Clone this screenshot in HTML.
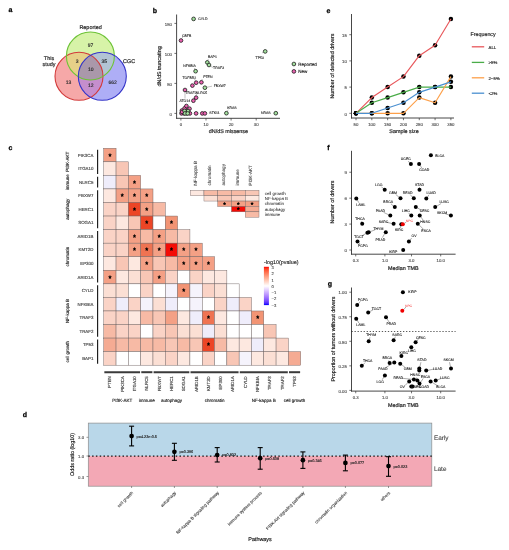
<!DOCTYPE html>
<html><head><meta charset="utf-8"><title>Figure</title>
<style>
html,body{margin:0;padding:0;background:#fff;}
body{width:509px;height:550px;overflow:hidden;position:relative;}
svg{position:absolute;left:0;top:0;display:block;font-family:"Liberation Sans", Arial, Helvetica, sans-serif;text-rendering:geometricPrecision;}
</style></head><body>
<svg width="509" height="550" viewBox="0 0 509 550">
<rect x="0" y="0" width="509" height="550" fill="#fff"/>
<text x="8.50" y="10.90" font-size="7" fill="#000" font-weight="bold" dominant-baseline="central" stroke="#000" stroke-width="0.25">a</text>
<text x="152.70" y="11.00" font-size="7" fill="#000" font-weight="bold" dominant-baseline="central" stroke="#000" stroke-width="0.25">b</text>
<text x="326.40" y="11.20" font-size="7" fill="#000" font-weight="bold" dominant-baseline="central" stroke="#000" stroke-width="0.25">e</text>
<text x="8.60" y="148.10" font-size="7" fill="#000" font-weight="bold" dominant-baseline="central" stroke="#000" stroke-width="0.25">c</text>
<text x="327.30" y="148.00" font-size="7" fill="#000" font-weight="bold" dominant-baseline="central" stroke="#000" stroke-width="0.25">f</text>
<text x="327.80" y="284.10" font-size="7" fill="#000" font-weight="bold" dominant-baseline="central" stroke="#000" stroke-width="0.25">g</text>
<text x="22.70" y="415.60" font-size="7" fill="#000" font-weight="bold" dominant-baseline="central" stroke="#000" stroke-width="0.25">d</text>
<defs><clipPath id="cg"><circle cx="90.4" cy="56" r="24"/></clipPath><clipPath id="cr"><circle cx="79" cy="76.3" r="24"/></clipPath></defs>
<circle cx="79.00" cy="76.30" r="24" fill="#f6a8a8" stroke="none" stroke-width="0.5"/>
<circle cx="102.30" cy="76.30" r="24" fill="#aeaef6" stroke="none" stroke-width="0.5"/>
<circle cx="90.40" cy="56.00" r="24" fill="#d7f3a8" stroke="none" stroke-width="0.5"/>
<g clip-path="url(#cr)">
<circle cx="102.30" cy="76.30" r="24" fill="#c58ecd" stroke="none" stroke-width="0.5"/>
</g>
<g clip-path="url(#cg)">
<circle cx="79.00" cy="76.30" r="24" fill="#e6d088" stroke="none" stroke-width="0.5"/>
<circle cx="102.30" cy="76.30" r="24" fill="#b2c4d4" stroke="none" stroke-width="0.5"/>
</g>
<g clip-path="url(#cg)"><g clip-path="url(#cr)">
<circle cx="102.30" cy="76.30" r="24" fill="#aa98aa" stroke="none" stroke-width="0.5"/>
</g></g>
<circle cx="79.00" cy="76.30" r="24" fill="none" stroke="#d23a3a" stroke-width="1.1"/>
<circle cx="90.40" cy="56.00" r="24" fill="none" stroke="#6cc236" stroke-width="1.1"/>
<circle cx="102.30" cy="76.30" r="24" fill="none" stroke="#3434c8" stroke-width="1.1"/>
<text x="90.60" y="27.70" font-size="5.45" text-anchor="middle" fill="#1a1a1a" dominant-baseline="central" stroke="#1a1a1a" stroke-width="0.16">Reported</text>
<text x="49.00" y="58.70" font-size="5.45" text-anchor="middle" fill="#1a1a1a" dominant-baseline="central" stroke="#1a1a1a" stroke-width="0.16">This</text>
<text x="49.00" y="64.50" font-size="5.45" text-anchor="middle" fill="#1a1a1a" dominant-baseline="central" stroke="#1a1a1a" stroke-width="0.16">study</text>
<text x="123.00" y="62.40" font-size="5.45" fill="#1a1a1a" dominant-baseline="central" stroke="#1a1a1a" stroke-width="0.16">CGC</text>
<text x="90.60" y="45.60" font-size="5" text-anchor="middle" fill="#2a2a2a" dominant-baseline="central" stroke="#2a2a2a" stroke-width="0.15">97</text>
<text x="77.10" y="61.70" font-size="5" text-anchor="middle" fill="#2a2a2a" dominant-baseline="central" stroke="#2a2a2a" stroke-width="0.15">3</text>
<text x="104.20" y="61.70" font-size="5" text-anchor="middle" fill="#2a2a2a" dominant-baseline="central" stroke="#2a2a2a" stroke-width="0.15">35</text>
<text x="90.80" y="70.10" font-size="5" text-anchor="middle" fill="#2a2a2a" dominant-baseline="central" stroke="#2a2a2a" stroke-width="0.15">10</text>
<text x="68.60" y="82.60" font-size="5" text-anchor="middle" fill="#2a2a2a" dominant-baseline="central" stroke="#2a2a2a" stroke-width="0.15">13</text>
<text x="90.80" y="86.00" font-size="5" text-anchor="middle" fill="#2a2a2a" dominant-baseline="central" stroke="#2a2a2a" stroke-width="0.15">12</text>
<text x="112.60" y="82.60" font-size="5" text-anchor="middle" fill="#2a2a2a" dominant-baseline="central" stroke="#2a2a2a" stroke-width="0.15">662</text>
<line x1="176.60" y1="14.50" x2="176.60" y2="118.75" stroke="#333" stroke-width="0.9"/>
<line x1="176.15" y1="118.30" x2="280.00" y2="118.30" stroke="#333" stroke-width="0.9"/>
<line x1="174.40" y1="113.40" x2="176.60" y2="113.40" stroke="#333" stroke-width="0.7"/>
<text x="172.00" y="114.10" font-size="4.3" text-anchor="end" fill="#4d4d4d" dominant-baseline="central" stroke="#4d4d4d" stroke-width="0.12">0</text>
<line x1="174.40" y1="83.40" x2="176.60" y2="83.40" stroke="#333" stroke-width="0.7"/>
<text x="172.00" y="84.10" font-size="4.3" text-anchor="end" fill="#4d4d4d" dominant-baseline="central" stroke="#4d4d4d" stroke-width="0.12">50</text>
<line x1="174.40" y1="53.40" x2="176.60" y2="53.40" stroke="#333" stroke-width="0.7"/>
<text x="172.00" y="54.10" font-size="4.3" text-anchor="end" fill="#4d4d4d" dominant-baseline="central" stroke="#4d4d4d" stroke-width="0.12">100</text>
<line x1="174.40" y1="23.40" x2="176.60" y2="23.40" stroke="#333" stroke-width="0.7"/>
<text x="172.00" y="24.10" font-size="4.3" text-anchor="end" fill="#4d4d4d" dominant-baseline="central" stroke="#4d4d4d" stroke-width="0.12">150</text>
<line x1="180.90" y1="118.30" x2="180.90" y2="120.50" stroke="#333" stroke-width="0.7"/>
<text x="180.90" y="124.90" font-size="4.3" text-anchor="middle" fill="#4d4d4d" dominant-baseline="central" stroke="#4d4d4d" stroke-width="0.12">0</text>
<line x1="206.00" y1="118.30" x2="206.00" y2="120.50" stroke="#333" stroke-width="0.7"/>
<text x="206.00" y="124.90" font-size="4.3" text-anchor="middle" fill="#4d4d4d" dominant-baseline="central" stroke="#4d4d4d" stroke-width="0.12">10</text>
<line x1="231.10" y1="118.30" x2="231.10" y2="120.50" stroke="#333" stroke-width="0.7"/>
<text x="231.10" y="124.90" font-size="4.3" text-anchor="middle" fill="#4d4d4d" dominant-baseline="central" stroke="#4d4d4d" stroke-width="0.12">20</text>
<line x1="256.20" y1="118.30" x2="256.20" y2="120.50" stroke="#333" stroke-width="0.7"/>
<text x="256.20" y="124.90" font-size="4.3" text-anchor="middle" fill="#4d4d4d" dominant-baseline="central" stroke="#4d4d4d" stroke-width="0.12">30</text>
<text x="228.40" y="132.40" font-size="5.4" text-anchor="middle" fill="#222" dominant-baseline="central" stroke="#222" stroke-width="0.18">dN/dS missense</text>
<text x="160.00" y="66.40" font-size="5.4" text-anchor="middle" fill="#222" transform="rotate(-90 160 66.4)" dominant-baseline="central" stroke="#222" stroke-width="0.18">dN/dS truncating</text>
<line x1="181.50" y1="38.50" x2="183.00" y2="37.00" stroke="#555" stroke-width="0.35"/>
<line x1="196.00" y1="70.00" x2="194.00" y2="68.00" stroke="#555" stroke-width="0.35"/>
<line x1="207.00" y1="61.00" x2="208.50" y2="59.00" stroke="#555" stroke-width="0.35"/>
<line x1="210.00" y1="66.00" x2="213.00" y2="67.50" stroke="#555" stroke-width="0.35"/>
<line x1="195.50" y1="81.00" x2="194.50" y2="79.00" stroke="#555" stroke-width="0.35"/>
<line x1="201.30" y1="80.50" x2="202.50" y2="79.00" stroke="#555" stroke-width="0.35"/>
<line x1="207.00" y1="87.20" x2="212.00" y2="86.20" stroke="#555" stroke-width="0.35"/>
<line x1="185.00" y1="92.00" x2="185.00" y2="98.50" stroke="#555" stroke-width="0.35"/>
<line x1="193.50" y1="99.00" x2="197.00" y2="94.00" stroke="#555" stroke-width="0.35"/>
<line x1="226.60" y1="111.50" x2="228.50" y2="110.00" stroke="#555" stroke-width="0.35"/>
<line x1="262.00" y1="53.00" x2="264.00" y2="51.50" stroke="#555" stroke-width="0.35"/>
<circle cx="193.60" cy="18.90" r="1.85" fill="#a3e09e" stroke="#1c1c1c" stroke-width="0.8"/>
<circle cx="265.20" cy="51.40" r="1.85" fill="#a3e09e" stroke="#1c1c1c" stroke-width="0.8"/>
<circle cx="207.30" cy="62.40" r="1.85" fill="#a3e09e" stroke="#1c1c1c" stroke-width="0.8"/>
<circle cx="209.00" cy="65.00" r="1.85" fill="#a3e09e" stroke="#1c1c1c" stroke-width="0.8"/>
<circle cx="195.60" cy="71.20" r="1.85" fill="#a3e09e" stroke="#1c1c1c" stroke-width="0.8"/>
<circle cx="204.90" cy="87.70" r="1.85" fill="#a3e09e" stroke="#1c1c1c" stroke-width="0.8"/>
<circle cx="226.40" cy="113.20" r="1.85" fill="#a3e09e" stroke="#1c1c1c" stroke-width="0.8"/>
<circle cx="275.80" cy="113.20" r="1.85" fill="#a3e09e" stroke="#1c1c1c" stroke-width="0.8"/>
<circle cx="181.00" cy="40.50" r="1.85" fill="#ea62b0" stroke="#1c1c1c" stroke-width="0.8"/>
<circle cx="192.40" cy="85.60" r="1.85" fill="#ea62b0" stroke="#1c1c1c" stroke-width="0.8"/>
<circle cx="196.20" cy="82.70" r="1.85" fill="#ea62b0" stroke="#1c1c1c" stroke-width="0.8"/>
<circle cx="201.40" cy="82.30" r="1.85" fill="#ea62b0" stroke="#1c1c1c" stroke-width="0.8"/>
<circle cx="185.00" cy="90.00" r="1.85" fill="#ea62b0" stroke="#1c1c1c" stroke-width="0.8"/>
<circle cx="193.40" cy="100.70" r="1.85" fill="#ea62b0" stroke="#1c1c1c" stroke-width="0.8"/>
<circle cx="196.10" cy="97.70" r="1.85" fill="#ea62b0" stroke="#1c1c1c" stroke-width="0.8"/>
<circle cx="196.10" cy="113.40" r="1.85" fill="#ea62b0" stroke="#1c1c1c" stroke-width="0.8"/>
<circle cx="202.30" cy="113.40" r="1.85" fill="#ea62b0" stroke="#1c1c1c" stroke-width="0.8"/>
<circle cx="204.90" cy="113.40" r="1.85" fill="#ea62b0" stroke="#1c1c1c" stroke-width="0.8"/>
<circle cx="181.50" cy="113.40" r="1.85" fill="#ea62b0" stroke="#1c1c1c" stroke-width="0.8"/>
<circle cx="184.10" cy="113.40" r="1.85" fill="#ea62b0" stroke="#1c1c1c" stroke-width="0.8"/>
<circle cx="186.80" cy="113.40" r="1.85" fill="#ea62b0" stroke="#1c1c1c" stroke-width="0.8"/>
<circle cx="189.90" cy="113.40" r="1.85" fill="#ea62b0" stroke="#1c1c1c" stroke-width="0.8"/>
<circle cx="181.90" cy="110.50" r="1.85" fill="#ea62b0" stroke="#1c1c1c" stroke-width="0.8"/>
<circle cx="184.60" cy="108.30" r="1.85" fill="#ea62b0" stroke="#1c1c1c" stroke-width="0.8"/>
<circle cx="186.40" cy="106.00" r="1.85" fill="#ea62b0" stroke="#1c1c1c" stroke-width="0.8"/>
<circle cx="189.50" cy="108.70" r="1.85" fill="#ea62b0" stroke="#1c1c1c" stroke-width="0.8"/>
<circle cx="187.20" cy="110.90" r="1.85" fill="#ea62b0" stroke="#1c1c1c" stroke-width="0.8"/>
<circle cx="182.00" cy="112.00" r="1.85" fill="#ea62b0" stroke="#1c1c1c" stroke-width="0.8"/>
<circle cx="184.60" cy="110.90" r="1.85" fill="#a3e09e" stroke="#1c1c1c" stroke-width="0.8"/>
<circle cx="188.10" cy="111.00" r="1.85" fill="#a3e09e" stroke="#1c1c1c" stroke-width="0.8"/>
<circle cx="185.00" cy="113.40" r="1.85" fill="#a3e09e" stroke="#1c1c1c" stroke-width="0.8"/>
<circle cx="187.70" cy="113.40" r="1.85" fill="#a3e09e" stroke="#1c1c1c" stroke-width="0.8"/>
<text x="198.20" y="18.90" font-size="3.5" fill="#222" dominant-baseline="central" stroke="#222" stroke-width="0.1">CYLD</text>
<text x="186.60" y="35.60" font-size="3.5" text-anchor="middle" fill="#222" dominant-baseline="central" stroke="#222" stroke-width="0.1">CBFB</text>
<text x="212.40" y="57.30" font-size="3.5" text-anchor="middle" fill="#222" dominant-baseline="central" stroke="#222" stroke-width="0.1">BAP1</text>
<text x="218.60" y="68.20" font-size="3.5" text-anchor="middle" fill="#222" dominant-baseline="central" stroke="#222" stroke-width="0.1">TRAF3</text>
<text x="189.60" y="66.20" font-size="3.5" text-anchor="middle" fill="#222" dominant-baseline="central" stroke="#222" stroke-width="0.1">NFKBIA</text>
<text x="189.40" y="77.60" font-size="3.5" text-anchor="middle" fill="#222" dominant-baseline="central" stroke="#222" stroke-width="0.1">TGFBR2</text>
<text x="207.80" y="77.10" font-size="3.5" text-anchor="middle" fill="#222" dominant-baseline="central" stroke="#222" stroke-width="0.1">PTEN</text>
<text x="219.70" y="86.00" font-size="3.5" text-anchor="middle" fill="#222" dominant-baseline="central" stroke="#222" stroke-width="0.1">FBXW7</text>
<text x="191.00" y="93.00" font-size="3.5" text-anchor="middle" fill="#222" dominant-baseline="central" stroke="#222" stroke-width="0.1">TRAF2</text>
<text x="201.40" y="93.00" font-size="3.5" text-anchor="middle" fill="#222" dominant-baseline="central" stroke="#222" stroke-width="0.1">NLRC5</text>
<text x="184.80" y="101.20" font-size="3.5" text-anchor="middle" fill="#222" dominant-baseline="central" stroke="#222" stroke-width="0.1">ATG14</text>
<text x="209.30" y="113.20" font-size="3.5" fill="#222" dominant-baseline="central" stroke="#222" stroke-width="0.1">STK11</text>
<text x="231.90" y="108.00" font-size="3.5" text-anchor="middle" fill="#222" dominant-baseline="central" stroke="#222" stroke-width="0.1">KRAS</text>
<text x="259.70" y="58.00" font-size="3.5" text-anchor="middle" fill="#222" dominant-baseline="central" stroke="#222" stroke-width="0.1">TP53</text>
<text x="265.80" y="113.20" font-size="3.5" text-anchor="middle" fill="#222" dominant-baseline="central" stroke="#222" stroke-width="0.1">NRAS</text>
<circle cx="293.90" cy="64.00" r="1.85" fill="#a3e09e" stroke="#1c1c1c" stroke-width="0.8"/>
<circle cx="293.90" cy="71.40" r="1.85" fill="#ea62b0" stroke="#1c1c1c" stroke-width="0.8"/>
<text x="298.20" y="64.20" font-size="4.5" fill="#1a1a1a" dominant-baseline="central" stroke="#1a1a1a" stroke-width="0.14">Reported</text>
<text x="298.20" y="71.60" font-size="4.5" fill="#1a1a1a" dominant-baseline="central" stroke="#1a1a1a" stroke-width="0.14">New</text>
<line x1="351.50" y1="14.00" x2="351.50" y2="118.45" stroke="#333" stroke-width="0.9"/>
<line x1="351.05" y1="118.00" x2="454.00" y2="118.00" stroke="#333" stroke-width="0.9"/>
<line x1="349.30" y1="113.30" x2="351.50" y2="113.30" stroke="#333" stroke-width="0.7"/>
<text x="346.90" y="114.00" font-size="4.3" text-anchor="end" fill="#4d4d4d" dominant-baseline="central" stroke="#4d4d4d" stroke-width="0.12">0</text>
<line x1="349.30" y1="87.10" x2="351.50" y2="87.10" stroke="#333" stroke-width="0.7"/>
<text x="346.90" y="87.80" font-size="4.3" text-anchor="end" fill="#4d4d4d" dominant-baseline="central" stroke="#4d4d4d" stroke-width="0.12">5</text>
<line x1="349.30" y1="60.90" x2="351.50" y2="60.90" stroke="#333" stroke-width="0.7"/>
<text x="346.90" y="61.60" font-size="4.3" text-anchor="end" fill="#4d4d4d" dominant-baseline="central" stroke="#4d4d4d" stroke-width="0.12">10</text>
<line x1="349.30" y1="34.70" x2="351.50" y2="34.70" stroke="#333" stroke-width="0.7"/>
<text x="346.90" y="35.40" font-size="4.3" text-anchor="end" fill="#4d4d4d" dominant-baseline="central" stroke="#4d4d4d" stroke-width="0.12">15</text>
<line x1="356.00" y1="118.00" x2="356.00" y2="120.20" stroke="#333" stroke-width="0.7"/>
<text x="356.00" y="124.60" font-size="4.3" text-anchor="middle" fill="#4d4d4d" dominant-baseline="central" stroke="#4d4d4d" stroke-width="0.12">50</text>
<line x1="371.82" y1="118.00" x2="371.82" y2="120.20" stroke="#333" stroke-width="0.7"/>
<text x="371.82" y="124.60" font-size="4.3" text-anchor="middle" fill="#4d4d4d" dominant-baseline="central" stroke="#4d4d4d" stroke-width="0.12">100</text>
<line x1="387.63" y1="118.00" x2="387.63" y2="120.20" stroke="#333" stroke-width="0.7"/>
<text x="387.63" y="124.60" font-size="4.3" text-anchor="middle" fill="#4d4d4d" dominant-baseline="central" stroke="#4d4d4d" stroke-width="0.12">150</text>
<line x1="403.45" y1="118.00" x2="403.45" y2="120.20" stroke="#333" stroke-width="0.7"/>
<text x="403.45" y="124.60" font-size="4.3" text-anchor="middle" fill="#4d4d4d" dominant-baseline="central" stroke="#4d4d4d" stroke-width="0.12">200</text>
<line x1="419.27" y1="118.00" x2="419.27" y2="120.20" stroke="#333" stroke-width="0.7"/>
<text x="419.27" y="124.60" font-size="4.3" text-anchor="middle" fill="#4d4d4d" dominant-baseline="central" stroke="#4d4d4d" stroke-width="0.12">250</text>
<line x1="435.08" y1="118.00" x2="435.08" y2="120.20" stroke="#333" stroke-width="0.7"/>
<text x="435.08" y="124.60" font-size="4.3" text-anchor="middle" fill="#4d4d4d" dominant-baseline="central" stroke="#4d4d4d" stroke-width="0.12">300</text>
<line x1="450.90" y1="118.00" x2="450.90" y2="120.20" stroke="#333" stroke-width="0.7"/>
<text x="450.90" y="124.60" font-size="4.3" text-anchor="middle" fill="#4d4d4d" dominant-baseline="central" stroke="#4d4d4d" stroke-width="0.12">350</text>
<text x="404.00" y="132.20" font-size="5.4" text-anchor="middle" fill="#222" dominant-baseline="central" stroke="#222" stroke-width="0.18">Sample size</text>
<text x="333.20" y="66.00" font-size="5.4" text-anchor="middle" fill="#222" transform="rotate(-90 333.2 66)" dominant-baseline="central" stroke="#222" stroke-width="0.18">Number of detected drivers</text>
<circle cx="356.00" cy="113.30" r="2.25" fill="#000" stroke="none" stroke-width="0.5"/>
<circle cx="371.82" cy="97.58" r="2.25" fill="#000" stroke="none" stroke-width="0.5"/>
<circle cx="387.63" cy="87.10" r="2.25" fill="#000" stroke="none" stroke-width="0.5"/>
<circle cx="403.45" cy="76.62" r="2.25" fill="#000" stroke="none" stroke-width="0.5"/>
<circle cx="419.27" cy="55.66" r="2.25" fill="#000" stroke="none" stroke-width="0.5"/>
<circle cx="435.08" cy="45.18" r="2.25" fill="#000" stroke="none" stroke-width="0.5"/>
<circle cx="450.90" cy="18.98" r="2.25" fill="#000" stroke="none" stroke-width="0.5"/>
<circle cx="356.00" cy="113.30" r="2.25" fill="#000" stroke="none" stroke-width="0.5"/>
<circle cx="371.82" cy="102.82" r="2.25" fill="#000" stroke="none" stroke-width="0.5"/>
<circle cx="387.63" cy="97.58" r="2.25" fill="#000" stroke="none" stroke-width="0.5"/>
<circle cx="403.45" cy="92.34" r="2.25" fill="#000" stroke="none" stroke-width="0.5"/>
<circle cx="419.27" cy="87.10" r="2.25" fill="#000" stroke="none" stroke-width="0.5"/>
<circle cx="435.08" cy="87.10" r="2.25" fill="#000" stroke="none" stroke-width="0.5"/>
<circle cx="450.90" cy="87.10" r="2.25" fill="#000" stroke="none" stroke-width="0.5"/>
<circle cx="356.00" cy="113.30" r="2.25" fill="#000" stroke="none" stroke-width="0.5"/>
<circle cx="371.82" cy="113.30" r="2.25" fill="#000" stroke="none" stroke-width="0.5"/>
<circle cx="387.63" cy="113.30" r="2.25" fill="#000" stroke="none" stroke-width="0.5"/>
<circle cx="403.45" cy="113.30" r="2.25" fill="#000" stroke="none" stroke-width="0.5"/>
<circle cx="419.27" cy="97.58" r="2.25" fill="#000" stroke="none" stroke-width="0.5"/>
<circle cx="435.08" cy="102.82" r="2.25" fill="#000" stroke="none" stroke-width="0.5"/>
<circle cx="450.90" cy="76.62" r="2.25" fill="#000" stroke="none" stroke-width="0.5"/>
<circle cx="356.00" cy="113.30" r="2.25" fill="#000" stroke="none" stroke-width="0.5"/>
<circle cx="371.82" cy="113.30" r="2.25" fill="#000" stroke="none" stroke-width="0.5"/>
<circle cx="387.63" cy="108.06" r="2.25" fill="#000" stroke="none" stroke-width="0.5"/>
<circle cx="403.45" cy="102.82" r="2.25" fill="#000" stroke="none" stroke-width="0.5"/>
<circle cx="419.27" cy="92.34" r="2.25" fill="#000" stroke="none" stroke-width="0.5"/>
<circle cx="435.08" cy="87.10" r="2.25" fill="#000" stroke="none" stroke-width="0.5"/>
<circle cx="450.90" cy="81.86" r="2.25" fill="#000" stroke="none" stroke-width="0.5"/>
<polyline points="356.00,113.30 371.82,97.58 387.63,87.10 403.45,76.62 419.27,55.66 435.08,45.18 450.90,18.98" fill="none" stroke="#e8575b" stroke-width="1.15" stroke-linejoin="round"/>
<polyline points="356.00,113.30 371.82,102.82 387.63,97.58 403.45,92.34 419.27,87.10 435.08,87.10 450.90,87.10" fill="none" stroke="#4aac48" stroke-width="1.15" stroke-linejoin="round"/>
<polyline points="356.00,113.30 371.82,113.30 387.63,113.30 403.45,113.30 419.27,97.58 435.08,102.82 450.90,76.62" fill="none" stroke="#fda04a" stroke-width="1.15" stroke-linejoin="round"/>
<polyline points="356.00,113.30 371.82,113.30 387.63,108.06 403.45,102.82 419.27,92.34 435.08,87.10 450.90,81.86" fill="none" stroke="#4a8fd0" stroke-width="1.15" stroke-linejoin="round"/>
<text x="470.60" y="35.20" font-size="5.3" fill="#1a1a1a" dominant-baseline="central" stroke="#1a1a1a" stroke-width="0.16">Frequency</text>
<line x1="471.80" y1="46.80" x2="484.20" y2="46.80" stroke="#e8575b" stroke-width="1.3"/>
<text x="488.60" y="47.20" font-size="4.3" fill="#1a1a1a" dominant-baseline="central" stroke="#1a1a1a" stroke-width="0.14">ALL</text>
<line x1="471.80" y1="62.40" x2="484.20" y2="62.40" stroke="#4aac48" stroke-width="1.3"/>
<text x="488.60" y="62.80" font-size="4.3" fill="#1a1a1a" dominant-baseline="central" stroke="#1a1a1a" stroke-width="0.14">&gt;5%</text>
<line x1="471.80" y1="77.80" x2="484.20" y2="77.80" stroke="#fda04a" stroke-width="1.3"/>
<text x="488.60" y="78.20" font-size="4.3" fill="#1a1a1a" dominant-baseline="central" stroke="#1a1a1a" stroke-width="0.14">2~5%</text>
<line x1="471.80" y1="93.20" x2="484.20" y2="93.20" stroke="#4a8fd0" stroke-width="1.3"/>
<text x="488.60" y="93.60" font-size="4.3" fill="#1a1a1a" dominant-baseline="central" stroke="#1a1a1a" stroke-width="0.14">&lt;2%</text>
<rect x="103.75" y="148.25" width="12.31" height="13.56" fill="#f4a085" stroke="#6e6262" stroke-width="0.45"/>
<rect x="103.75" y="161.81" width="12.31" height="13.56" fill="#fde8e0" stroke="#6e6262" stroke-width="0.45"/>
<rect x="116.06" y="161.81" width="12.31" height="13.56" fill="#f8c6b5" stroke="#6e6262" stroke-width="0.45"/>
<rect x="103.75" y="175.37" width="12.31" height="13.56" fill="#efedfb" stroke="#6e6262" stroke-width="0.45"/>
<rect x="116.06" y="175.37" width="12.31" height="13.56" fill="#f8c6b5" stroke="#6e6262" stroke-width="0.45"/>
<rect x="128.37" y="175.37" width="12.31" height="13.56" fill="#f4a085" stroke="#6e6262" stroke-width="0.45"/>
<rect x="103.75" y="188.93" width="12.31" height="13.56" fill="#fde8e0" stroke="#6e6262" stroke-width="0.45"/>
<rect x="116.06" y="188.93" width="12.31" height="13.56" fill="#f4a085" stroke="#6e6262" stroke-width="0.45"/>
<rect x="128.37" y="188.93" width="12.31" height="13.56" fill="#f4a085" stroke="#6e6262" stroke-width="0.45"/>
<rect x="140.68" y="188.93" width="12.31" height="13.56" fill="#f4a085" stroke="#6e6262" stroke-width="0.45"/>
<rect x="103.75" y="202.49" width="12.31" height="13.56" fill="#fad3c6" stroke="#6e6262" stroke-width="0.45"/>
<rect x="116.06" y="202.49" width="12.31" height="13.56" fill="#fad3c6" stroke="#6e6262" stroke-width="0.45"/>
<rect x="128.37" y="202.49" width="12.31" height="13.56" fill="#ec4526" stroke="#6e6262" stroke-width="0.45"/>
<rect x="140.68" y="202.49" width="12.31" height="13.56" fill="#f4a085" stroke="#6e6262" stroke-width="0.45"/>
<rect x="152.99" y="202.49" width="12.31" height="13.56" fill="#f7baa5" stroke="#6e6262" stroke-width="0.45"/>
<rect x="103.75" y="216.05" width="12.31" height="13.56" fill="#fad3c6" stroke="#6e6262" stroke-width="0.45"/>
<rect x="116.06" y="216.05" width="12.31" height="13.56" fill="#fde8e0" stroke="#6e6262" stroke-width="0.45"/>
<rect x="128.37" y="216.05" width="12.31" height="13.56" fill="#f8c6b5" stroke="#6e6262" stroke-width="0.45"/>
<rect x="140.68" y="216.05" width="12.31" height="13.56" fill="#ec4526" stroke="#6e6262" stroke-width="0.45"/>
<rect x="152.99" y="216.05" width="12.31" height="13.56" fill="#ffffff" stroke="#6e6262" stroke-width="0.45"/>
<rect x="165.30" y="216.05" width="12.31" height="13.56" fill="#f29474" stroke="#6e6262" stroke-width="0.45"/>
<rect x="103.75" y="229.61" width="12.31" height="13.56" fill="#fad3c6" stroke="#6e6262" stroke-width="0.45"/>
<rect x="116.06" y="229.61" width="12.31" height="13.56" fill="#fad3c6" stroke="#6e6262" stroke-width="0.45"/>
<rect x="128.37" y="229.61" width="12.31" height="13.56" fill="#f4a085" stroke="#6e6262" stroke-width="0.45"/>
<rect x="140.68" y="229.61" width="12.31" height="13.56" fill="#f7baa5" stroke="#6e6262" stroke-width="0.45"/>
<rect x="152.99" y="229.61" width="12.31" height="13.56" fill="#f4a085" stroke="#6e6262" stroke-width="0.45"/>
<rect x="165.30" y="229.61" width="12.31" height="13.56" fill="#f7baa5" stroke="#6e6262" stroke-width="0.45"/>
<rect x="177.61" y="229.61" width="12.31" height="13.56" fill="#fad3c6" stroke="#6e6262" stroke-width="0.45"/>
<rect x="103.75" y="243.17" width="12.31" height="13.56" fill="#fad3c6" stroke="#6e6262" stroke-width="0.45"/>
<rect x="116.06" y="243.17" width="12.31" height="13.56" fill="#fad3c6" stroke="#6e6262" stroke-width="0.45"/>
<rect x="128.37" y="243.17" width="12.31" height="13.56" fill="#f4a085" stroke="#6e6262" stroke-width="0.45"/>
<rect x="140.68" y="243.17" width="12.31" height="13.56" fill="#ef7352" stroke="#6e6262" stroke-width="0.45"/>
<rect x="152.99" y="243.17" width="12.31" height="13.56" fill="#f4a085" stroke="#6e6262" stroke-width="0.45"/>
<rect x="165.30" y="243.17" width="12.31" height="13.56" fill="#f30c06" stroke="#6e6262" stroke-width="0.45"/>
<rect x="177.61" y="243.17" width="12.31" height="13.56" fill="#f4a085" stroke="#6e6262" stroke-width="0.45"/>
<rect x="189.92" y="243.17" width="12.31" height="13.56" fill="#f4a085" stroke="#6e6262" stroke-width="0.45"/>
<rect x="103.75" y="256.73" width="12.31" height="13.56" fill="#fde8e0" stroke="#6e6262" stroke-width="0.45"/>
<rect x="116.06" y="256.73" width="12.31" height="13.56" fill="#f8c6b5" stroke="#6e6262" stroke-width="0.45"/>
<rect x="128.37" y="256.73" width="12.31" height="13.56" fill="#fde8e0" stroke="#6e6262" stroke-width="0.45"/>
<rect x="140.68" y="256.73" width="12.31" height="13.56" fill="#f4a085" stroke="#6e6262" stroke-width="0.45"/>
<rect x="152.99" y="256.73" width="12.31" height="13.56" fill="#f8c6b5" stroke="#6e6262" stroke-width="0.45"/>
<rect x="165.30" y="256.73" width="12.31" height="13.56" fill="#f7baa5" stroke="#6e6262" stroke-width="0.45"/>
<rect x="177.61" y="256.73" width="12.31" height="13.56" fill="#f4a085" stroke="#6e6262" stroke-width="0.45"/>
<rect x="189.92" y="256.73" width="12.31" height="13.56" fill="#f4a085" stroke="#6e6262" stroke-width="0.45"/>
<rect x="202.23" y="256.73" width="12.31" height="13.56" fill="#f4a085" stroke="#6e6262" stroke-width="0.45"/>
<rect x="103.75" y="270.29" width="12.31" height="13.56" fill="#f4a085" stroke="#6e6262" stroke-width="0.45"/>
<rect x="116.06" y="270.29" width="12.31" height="13.56" fill="#fde8e0" stroke="#6e6262" stroke-width="0.45"/>
<rect x="128.37" y="270.29" width="12.31" height="13.56" fill="#fbdfd4" stroke="#6e6262" stroke-width="0.45"/>
<rect x="140.68" y="270.29" width="12.31" height="13.56" fill="#f8c6b5" stroke="#6e6262" stroke-width="0.45"/>
<rect x="152.99" y="270.29" width="12.31" height="13.56" fill="#f4a085" stroke="#6e6262" stroke-width="0.45"/>
<rect x="165.30" y="270.29" width="12.31" height="13.56" fill="#fad3c6" stroke="#6e6262" stroke-width="0.45"/>
<rect x="177.61" y="270.29" width="12.31" height="13.56" fill="#ffffff" stroke="#6e6262" stroke-width="0.45"/>
<rect x="189.92" y="270.29" width="12.31" height="13.56" fill="#fad3c6" stroke="#6e6262" stroke-width="0.45"/>
<rect x="202.23" y="270.29" width="12.31" height="13.56" fill="#fde8e0" stroke="#6e6262" stroke-width="0.45"/>
<rect x="214.54" y="270.29" width="12.31" height="13.56" fill="#fde8e0" stroke="#6e6262" stroke-width="0.45"/>
<rect x="103.75" y="283.85" width="12.31" height="13.56" fill="#fbdfd4" stroke="#6e6262" stroke-width="0.45"/>
<rect x="116.06" y="283.85" width="12.31" height="13.56" fill="#fbdfd4" stroke="#6e6262" stroke-width="0.45"/>
<rect x="128.37" y="283.85" width="12.31" height="13.56" fill="#ffffff" stroke="#6e6262" stroke-width="0.45"/>
<rect x="140.68" y="283.85" width="12.31" height="13.56" fill="#fad3c6" stroke="#6e6262" stroke-width="0.45"/>
<rect x="152.99" y="283.85" width="12.31" height="13.56" fill="#ffffff" stroke="#6e6262" stroke-width="0.45"/>
<rect x="165.30" y="283.85" width="12.31" height="13.56" fill="#f5f3fc" stroke="#6e6262" stroke-width="0.45"/>
<rect x="177.61" y="283.85" width="12.31" height="13.56" fill="#f29474" stroke="#6e6262" stroke-width="0.45"/>
<rect x="189.92" y="283.85" width="12.31" height="13.56" fill="#f5f3fc" stroke="#6e6262" stroke-width="0.45"/>
<rect x="202.23" y="283.85" width="12.31" height="13.56" fill="#fad3c6" stroke="#6e6262" stroke-width="0.45"/>
<rect x="214.54" y="283.85" width="12.31" height="13.56" fill="#fbdfd4" stroke="#6e6262" stroke-width="0.45"/>
<rect x="226.85" y="283.85" width="12.31" height="13.56" fill="#ffffff" stroke="#6e6262" stroke-width="0.45"/>
<rect x="103.75" y="297.41" width="12.31" height="13.56" fill="#fad3c6" stroke="#6e6262" stroke-width="0.45"/>
<rect x="116.06" y="297.41" width="12.31" height="13.56" fill="#efedfb" stroke="#6e6262" stroke-width="0.45"/>
<rect x="128.37" y="297.41" width="12.31" height="13.56" fill="#fad3c6" stroke="#6e6262" stroke-width="0.45"/>
<rect x="140.68" y="297.41" width="12.31" height="13.56" fill="#f5f3fc" stroke="#6e6262" stroke-width="0.45"/>
<rect x="152.99" y="297.41" width="12.31" height="13.56" fill="#fbdfd4" stroke="#6e6262" stroke-width="0.45"/>
<rect x="165.30" y="297.41" width="12.31" height="13.56" fill="#efedfb" stroke="#6e6262" stroke-width="0.45"/>
<rect x="177.61" y="297.41" width="12.31" height="13.56" fill="#ffffff" stroke="#6e6262" stroke-width="0.45"/>
<rect x="189.92" y="297.41" width="12.31" height="13.56" fill="#f5f3fc" stroke="#6e6262" stroke-width="0.45"/>
<rect x="202.23" y="297.41" width="12.31" height="13.56" fill="#ffffff" stroke="#6e6262" stroke-width="0.45"/>
<rect x="214.54" y="297.41" width="12.31" height="13.56" fill="#fad3c6" stroke="#6e6262" stroke-width="0.45"/>
<rect x="226.85" y="297.41" width="12.31" height="13.56" fill="#efedfb" stroke="#6e6262" stroke-width="0.45"/>
<rect x="239.16" y="297.41" width="12.31" height="13.56" fill="#fad3c6" stroke="#6e6262" stroke-width="0.45"/>
<rect x="103.75" y="310.97" width="12.31" height="13.56" fill="#fad3c6" stroke="#6e6262" stroke-width="0.45"/>
<rect x="116.06" y="310.97" width="12.31" height="13.56" fill="#fad3c6" stroke="#6e6262" stroke-width="0.45"/>
<rect x="128.37" y="310.97" width="12.31" height="13.56" fill="#fde8e0" stroke="#6e6262" stroke-width="0.45"/>
<rect x="140.68" y="310.97" width="12.31" height="13.56" fill="#f7baa5" stroke="#6e6262" stroke-width="0.45"/>
<rect x="152.99" y="310.97" width="12.31" height="13.56" fill="#f8c6b5" stroke="#6e6262" stroke-width="0.45"/>
<rect x="165.30" y="310.97" width="12.31" height="13.56" fill="#f4a085" stroke="#6e6262" stroke-width="0.45"/>
<rect x="177.61" y="310.97" width="12.31" height="13.56" fill="#fde8e0" stroke="#6e6262" stroke-width="0.45"/>
<rect x="189.92" y="310.97" width="12.31" height="13.56" fill="#efedfb" stroke="#6e6262" stroke-width="0.45"/>
<rect x="202.23" y="310.97" width="12.31" height="13.56" fill="#ef7352" stroke="#6e6262" stroke-width="0.45"/>
<rect x="214.54" y="310.97" width="12.31" height="13.56" fill="#fde8e0" stroke="#6e6262" stroke-width="0.45"/>
<rect x="226.85" y="310.97" width="12.31" height="13.56" fill="#ffffff" stroke="#6e6262" stroke-width="0.45"/>
<rect x="239.16" y="310.97" width="12.31" height="13.56" fill="#efedfb" stroke="#6e6262" stroke-width="0.45"/>
<rect x="251.47" y="310.97" width="12.31" height="13.56" fill="#f29474" stroke="#6e6262" stroke-width="0.45"/>
<rect x="103.75" y="324.53" width="12.31" height="13.56" fill="#f7baa5" stroke="#6e6262" stroke-width="0.45"/>
<rect x="116.06" y="324.53" width="12.31" height="13.56" fill="#fad3c6" stroke="#6e6262" stroke-width="0.45"/>
<rect x="128.37" y="324.53" width="12.31" height="13.56" fill="#fad3c6" stroke="#6e6262" stroke-width="0.45"/>
<rect x="140.68" y="324.53" width="12.31" height="13.56" fill="#ffffff" stroke="#6e6262" stroke-width="0.45"/>
<rect x="152.99" y="324.53" width="12.31" height="13.56" fill="#fad3c6" stroke="#6e6262" stroke-width="0.45"/>
<rect x="165.30" y="324.53" width="12.31" height="13.56" fill="#f8c6b5" stroke="#6e6262" stroke-width="0.45"/>
<rect x="177.61" y="324.53" width="12.31" height="13.56" fill="#fbdfd4" stroke="#6e6262" stroke-width="0.45"/>
<rect x="189.92" y="324.53" width="12.31" height="13.56" fill="#fbdfd4" stroke="#6e6262" stroke-width="0.45"/>
<rect x="202.23" y="324.53" width="12.31" height="13.56" fill="#efedfb" stroke="#6e6262" stroke-width="0.45"/>
<rect x="214.54" y="324.53" width="12.31" height="13.56" fill="#fbdfd4" stroke="#6e6262" stroke-width="0.45"/>
<rect x="226.85" y="324.53" width="12.31" height="13.56" fill="#ffffff" stroke="#6e6262" stroke-width="0.45"/>
<rect x="239.16" y="324.53" width="12.31" height="13.56" fill="#ffffff" stroke="#6e6262" stroke-width="0.45"/>
<rect x="251.47" y="324.53" width="12.31" height="13.56" fill="#ffffff" stroke="#6e6262" stroke-width="0.45"/>
<rect x="263.78" y="324.53" width="12.31" height="13.56" fill="#f8c6b5" stroke="#6e6262" stroke-width="0.45"/>
<rect x="103.75" y="338.09" width="12.31" height="13.56" fill="#f5ab93" stroke="#6e6262" stroke-width="0.45"/>
<rect x="116.06" y="338.09" width="12.31" height="13.56" fill="#f7baa5" stroke="#6e6262" stroke-width="0.45"/>
<rect x="128.37" y="338.09" width="12.31" height="13.56" fill="#f7baa5" stroke="#6e6262" stroke-width="0.45"/>
<rect x="140.68" y="338.09" width="12.31" height="13.56" fill="#f7baa5" stroke="#6e6262" stroke-width="0.45"/>
<rect x="152.99" y="338.09" width="12.31" height="13.56" fill="#f7baa5" stroke="#6e6262" stroke-width="0.45"/>
<rect x="165.30" y="338.09" width="12.31" height="13.56" fill="#f8c6b5" stroke="#6e6262" stroke-width="0.45"/>
<rect x="177.61" y="338.09" width="12.31" height="13.56" fill="#f7baa5" stroke="#6e6262" stroke-width="0.45"/>
<rect x="189.92" y="338.09" width="12.31" height="13.56" fill="#f8c6b5" stroke="#6e6262" stroke-width="0.45"/>
<rect x="202.23" y="338.09" width="12.31" height="13.56" fill="#ec4526" stroke="#6e6262" stroke-width="0.45"/>
<rect x="214.54" y="338.09" width="12.31" height="13.56" fill="#f7baa5" stroke="#6e6262" stroke-width="0.45"/>
<rect x="226.85" y="338.09" width="12.31" height="13.56" fill="#fde8e0" stroke="#6e6262" stroke-width="0.45"/>
<rect x="239.16" y="338.09" width="12.31" height="13.56" fill="#fde8e0" stroke="#6e6262" stroke-width="0.45"/>
<rect x="251.47" y="338.09" width="12.31" height="13.56" fill="#efedfb" stroke="#6e6262" stroke-width="0.45"/>
<rect x="263.78" y="338.09" width="12.31" height="13.56" fill="#fde8e0" stroke="#6e6262" stroke-width="0.45"/>
<rect x="276.09" y="338.09" width="12.31" height="13.56" fill="#fad3c6" stroke="#6e6262" stroke-width="0.45"/>
<rect x="103.75" y="351.65" width="12.31" height="13.56" fill="#fad3c6" stroke="#6e6262" stroke-width="0.45"/>
<rect x="116.06" y="351.65" width="12.31" height="13.56" fill="#ffffff" stroke="#6e6262" stroke-width="0.45"/>
<rect x="128.37" y="351.65" width="12.31" height="13.56" fill="#ffffff" stroke="#6e6262" stroke-width="0.45"/>
<rect x="140.68" y="351.65" width="12.31" height="13.56" fill="#fde8e0" stroke="#6e6262" stroke-width="0.45"/>
<rect x="152.99" y="351.65" width="12.31" height="13.56" fill="#fbdfd4" stroke="#6e6262" stroke-width="0.45"/>
<rect x="165.30" y="351.65" width="12.31" height="13.56" fill="#fad3c6" stroke="#6e6262" stroke-width="0.45"/>
<rect x="177.61" y="351.65" width="12.31" height="13.56" fill="#fde8e0" stroke="#6e6262" stroke-width="0.45"/>
<rect x="189.92" y="351.65" width="12.31" height="13.56" fill="#ffffff" stroke="#6e6262" stroke-width="0.45"/>
<rect x="202.23" y="351.65" width="12.31" height="13.56" fill="#fad3c6" stroke="#6e6262" stroke-width="0.45"/>
<rect x="214.54" y="351.65" width="12.31" height="13.56" fill="#ffffff" stroke="#6e6262" stroke-width="0.45"/>
<rect x="226.85" y="351.65" width="12.31" height="13.56" fill="#f8c6b5" stroke="#6e6262" stroke-width="0.45"/>
<rect x="239.16" y="351.65" width="12.31" height="13.56" fill="#f5f3fc" stroke="#6e6262" stroke-width="0.45"/>
<rect x="251.47" y="351.65" width="12.31" height="13.56" fill="#fde8e0" stroke="#6e6262" stroke-width="0.45"/>
<rect x="263.78" y="351.65" width="12.31" height="13.56" fill="#fbdfd4" stroke="#6e6262" stroke-width="0.45"/>
<rect x="276.09" y="351.65" width="12.31" height="13.56" fill="#fde8e0" stroke="#6e6262" stroke-width="0.45"/>
<rect x="288.40" y="351.65" width="12.31" height="13.56" fill="#f5ab93" stroke="#6e6262" stroke-width="0.45"/>
<text x="109.91" y="156.03" font-size="7.6" text-anchor="middle" fill="#000" dominant-baseline="central" stroke="#000" stroke-width="0.4">*</text>
<text x="134.53" y="183.15" font-size="7.6" text-anchor="middle" fill="#000" dominant-baseline="central" stroke="#000" stroke-width="0.4">*</text>
<text x="122.22" y="196.71" font-size="7.6" text-anchor="middle" fill="#000" dominant-baseline="central" stroke="#000" stroke-width="0.4">*</text>
<text x="134.53" y="196.71" font-size="7.6" text-anchor="middle" fill="#000" dominant-baseline="central" stroke="#000" stroke-width="0.4">*</text>
<text x="146.84" y="196.71" font-size="7.6" text-anchor="middle" fill="#000" dominant-baseline="central" stroke="#000" stroke-width="0.4">*</text>
<text x="134.53" y="210.27" font-size="7.6" text-anchor="middle" fill="#000" dominant-baseline="central" stroke="#000" stroke-width="0.4">*</text>
<text x="146.84" y="210.27" font-size="7.6" text-anchor="middle" fill="#000" dominant-baseline="central" stroke="#000" stroke-width="0.4">*</text>
<text x="146.84" y="223.83" font-size="7.6" text-anchor="middle" fill="#000" dominant-baseline="central" stroke="#000" stroke-width="0.4">*</text>
<text x="171.45" y="223.83" font-size="7.6" text-anchor="middle" fill="#000" dominant-baseline="central" stroke="#000" stroke-width="0.4">*</text>
<text x="134.53" y="237.39" font-size="7.6" text-anchor="middle" fill="#000" dominant-baseline="central" stroke="#000" stroke-width="0.4">*</text>
<text x="159.15" y="237.39" font-size="7.6" text-anchor="middle" fill="#000" dominant-baseline="central" stroke="#000" stroke-width="0.4">*</text>
<text x="134.53" y="250.95" font-size="7.6" text-anchor="middle" fill="#000" dominant-baseline="central" stroke="#000" stroke-width="0.4">*</text>
<text x="146.84" y="250.95" font-size="7.6" text-anchor="middle" fill="#000" dominant-baseline="central" stroke="#000" stroke-width="0.4">*</text>
<text x="159.15" y="250.95" font-size="7.6" text-anchor="middle" fill="#000" dominant-baseline="central" stroke="#000" stroke-width="0.4">*</text>
<text x="171.45" y="250.95" font-size="7.6" text-anchor="middle" fill="#000" dominant-baseline="central" stroke="#000" stroke-width="0.4">*</text>
<text x="183.76" y="250.95" font-size="7.6" text-anchor="middle" fill="#000" dominant-baseline="central" stroke="#000" stroke-width="0.4">*</text>
<text x="196.07" y="250.95" font-size="7.6" text-anchor="middle" fill="#000" dominant-baseline="central" stroke="#000" stroke-width="0.4">*</text>
<text x="146.84" y="264.51" font-size="7.6" text-anchor="middle" fill="#000" dominant-baseline="central" stroke="#000" stroke-width="0.4">*</text>
<text x="183.76" y="264.51" font-size="7.6" text-anchor="middle" fill="#000" dominant-baseline="central" stroke="#000" stroke-width="0.4">*</text>
<text x="196.07" y="264.51" font-size="7.6" text-anchor="middle" fill="#000" dominant-baseline="central" stroke="#000" stroke-width="0.4">*</text>
<text x="208.38" y="264.51" font-size="7.6" text-anchor="middle" fill="#000" dominant-baseline="central" stroke="#000" stroke-width="0.4">*</text>
<text x="109.91" y="278.07" font-size="7.6" text-anchor="middle" fill="#000" dominant-baseline="central" stroke="#000" stroke-width="0.4">*</text>
<text x="159.15" y="278.07" font-size="7.6" text-anchor="middle" fill="#000" dominant-baseline="central" stroke="#000" stroke-width="0.4">*</text>
<text x="183.76" y="291.63" font-size="7.6" text-anchor="middle" fill="#000" dominant-baseline="central" stroke="#000" stroke-width="0.4">*</text>
<text x="208.38" y="318.75" font-size="7.6" text-anchor="middle" fill="#000" dominant-baseline="central" stroke="#000" stroke-width="0.4">*</text>
<text x="257.62" y="318.75" font-size="7.6" text-anchor="middle" fill="#000" dominant-baseline="central" stroke="#000" stroke-width="0.4">*</text>
<text x="208.38" y="345.87" font-size="7.6" text-anchor="middle" fill="#000" dominant-baseline="central" stroke="#000" stroke-width="0.4">*</text>
<text x="93.40" y="155.03" font-size="4.4" text-anchor="end" fill="#444" dominant-baseline="central" stroke="#444" stroke-width="0.14">PIK3CA</text>
<text x="93.40" y="168.59" font-size="4.4" text-anchor="end" fill="#444" dominant-baseline="central" stroke="#444" stroke-width="0.14">ITGA10</text>
<text x="93.40" y="182.15" font-size="4.4" text-anchor="end" fill="#444" dominant-baseline="central" stroke="#444" stroke-width="0.14">NLRC5</text>
<text x="93.40" y="195.71" font-size="4.4" text-anchor="end" fill="#444" dominant-baseline="central" stroke="#444" stroke-width="0.14">FBXW7</text>
<text x="93.40" y="209.27" font-size="4.4" text-anchor="end" fill="#444" dominant-baseline="central" stroke="#444" stroke-width="0.14">HERC1</text>
<text x="93.40" y="222.83" font-size="4.4" text-anchor="end" fill="#444" dominant-baseline="central" stroke="#444" stroke-width="0.14">SOGA1</text>
<text x="93.40" y="236.39" font-size="4.4" text-anchor="end" fill="#444" dominant-baseline="central" stroke="#444" stroke-width="0.14">ARID1B</text>
<text x="93.40" y="249.95" font-size="4.4" text-anchor="end" fill="#444" dominant-baseline="central" stroke="#444" stroke-width="0.14">KMT2D</text>
<text x="93.40" y="263.51" font-size="4.4" text-anchor="end" fill="#444" dominant-baseline="central" stroke="#444" stroke-width="0.14">EP300</text>
<text x="93.40" y="277.07" font-size="4.4" text-anchor="end" fill="#444" dominant-baseline="central" stroke="#444" stroke-width="0.14">ARID1A</text>
<text x="93.40" y="290.63" font-size="4.4" text-anchor="end" fill="#444" dominant-baseline="central" stroke="#444" stroke-width="0.14">CYLD</text>
<text x="93.40" y="304.19" font-size="4.4" text-anchor="end" fill="#444" dominant-baseline="central" stroke="#444" stroke-width="0.14">NFKBIA</text>
<text x="93.40" y="317.75" font-size="4.4" text-anchor="end" fill="#444" dominant-baseline="central" stroke="#444" stroke-width="0.14">TRAF3</text>
<text x="93.40" y="331.31" font-size="4.4" text-anchor="end" fill="#444" dominant-baseline="central" stroke="#444" stroke-width="0.14">TRAF2</text>
<text x="93.40" y="344.87" font-size="4.4" text-anchor="end" fill="#444" dominant-baseline="central" stroke="#444" stroke-width="0.14">TP53</text>
<text x="93.40" y="358.43" font-size="4.4" text-anchor="end" fill="#444" dominant-baseline="central" stroke="#444" stroke-width="0.14">BAP1</text>
<text x="109.91" y="376.20" font-size="4.4" text-anchor="end" fill="#444" transform="rotate(-90 109.905 376.2)" dominant-baseline="central" stroke="#444" stroke-width="0.14">PTEN</text>
<text x="122.22" y="376.20" font-size="4.4" text-anchor="end" fill="#444" transform="rotate(-90 122.215 376.2)" dominant-baseline="central" stroke="#444" stroke-width="0.14">PIK3CA</text>
<text x="134.53" y="376.20" font-size="4.4" text-anchor="end" fill="#444" transform="rotate(-90 134.525 376.2)" dominant-baseline="central" stroke="#444" stroke-width="0.14">ITGA10</text>
<text x="146.84" y="376.20" font-size="4.4" text-anchor="end" fill="#444" transform="rotate(-90 146.835 376.2)" dominant-baseline="central" stroke="#444" stroke-width="0.14">NLRC5</text>
<text x="159.15" y="376.20" font-size="4.4" text-anchor="end" fill="#444" transform="rotate(-90 159.145 376.2)" dominant-baseline="central" stroke="#444" stroke-width="0.14">FBXW7</text>
<text x="171.45" y="376.20" font-size="4.4" text-anchor="end" fill="#444" transform="rotate(-90 171.455 376.2)" dominant-baseline="central" stroke="#444" stroke-width="0.14">HERC1</text>
<text x="183.76" y="376.20" font-size="4.4" text-anchor="end" fill="#444" transform="rotate(-90 183.765 376.2)" dominant-baseline="central" stroke="#444" stroke-width="0.14">SOGA1</text>
<text x="196.07" y="376.20" font-size="4.4" text-anchor="end" fill="#444" transform="rotate(-90 196.075 376.2)" dominant-baseline="central" stroke="#444" stroke-width="0.14">ARID1B</text>
<text x="208.38" y="376.20" font-size="4.4" text-anchor="end" fill="#444" transform="rotate(-90 208.385 376.2)" dominant-baseline="central" stroke="#444" stroke-width="0.14">KMT2D</text>
<text x="220.69" y="376.20" font-size="4.4" text-anchor="end" fill="#444" transform="rotate(-90 220.695 376.2)" dominant-baseline="central" stroke="#444" stroke-width="0.14">EP300</text>
<text x="233.00" y="376.20" font-size="4.4" text-anchor="end" fill="#444" transform="rotate(-90 233.005 376.2)" dominant-baseline="central" stroke="#444" stroke-width="0.14">ARID1A</text>
<text x="245.31" y="376.20" font-size="4.4" text-anchor="end" fill="#444" transform="rotate(-90 245.315 376.2)" dominant-baseline="central" stroke="#444" stroke-width="0.14">CYLD</text>
<text x="257.62" y="376.20" font-size="4.4" text-anchor="end" fill="#444" transform="rotate(-90 257.625 376.2)" dominant-baseline="central" stroke="#444" stroke-width="0.14">NFKBIA</text>
<text x="269.94" y="376.20" font-size="4.4" text-anchor="end" fill="#444" transform="rotate(-90 269.935 376.2)" dominant-baseline="central" stroke="#444" stroke-width="0.14">TRAF3</text>
<text x="282.25" y="376.20" font-size="4.4" text-anchor="end" fill="#444" transform="rotate(-90 282.245 376.2)" dominant-baseline="central" stroke="#444" stroke-width="0.14">TRAF2</text>
<text x="294.56" y="376.20" font-size="4.4" text-anchor="end" fill="#444" transform="rotate(-90 294.555 376.2)" dominant-baseline="central" stroke="#444" stroke-width="0.14">TP53</text>
<line x1="97.60" y1="149.65" x2="97.60" y2="173.97" stroke="#1a1a1a" stroke-width="1.15"/>
<text x="67.40" y="161.81" font-size="4.5" text-anchor="middle" fill="#1a1a1a" transform="rotate(-90 67.4 161.81)" dominant-baseline="central" stroke="#1a1a1a" stroke-width="0.14">PI3K-AKT</text>
<line x1="97.60" y1="176.77" x2="97.60" y2="187.53" stroke="#1a1a1a" stroke-width="1.15"/>
<text x="67.40" y="182.15" font-size="4.5" text-anchor="middle" fill="#1a1a1a" transform="rotate(-90 67.4 182.15)" dominant-baseline="central" stroke="#1a1a1a" stroke-width="0.14">immune</text>
<line x1="97.60" y1="190.33" x2="97.60" y2="228.21" stroke="#1a1a1a" stroke-width="1.15"/>
<text x="67.40" y="209.27" font-size="4.5" text-anchor="middle" fill="#1a1a1a" transform="rotate(-90 67.4 209.27)" dominant-baseline="central" stroke="#1a1a1a" stroke-width="0.14">autophagy</text>
<line x1="97.60" y1="231.01" x2="97.60" y2="282.45" stroke="#1a1a1a" stroke-width="1.15"/>
<text x="67.40" y="256.73" font-size="4.5" text-anchor="middle" fill="#1a1a1a" transform="rotate(-90 67.4 256.73)" dominant-baseline="central" stroke="#1a1a1a" stroke-width="0.14">chromatin</text>
<line x1="97.60" y1="285.25" x2="97.60" y2="336.69" stroke="#1a1a1a" stroke-width="1.15"/>
<text x="67.40" y="310.97" font-size="4.5" text-anchor="middle" fill="#1a1a1a" transform="rotate(-90 67.4 310.97)" dominant-baseline="central" stroke="#1a1a1a" stroke-width="0.14">NF-kappa B</text>
<line x1="97.60" y1="339.49" x2="97.60" y2="363.81" stroke="#1a1a1a" stroke-width="1.15"/>
<text x="67.40" y="351.65" font-size="4.5" text-anchor="middle" fill="#1a1a1a" transform="rotate(-90 67.4 351.65)" dominant-baseline="central" stroke="#1a1a1a" stroke-width="0.14">cell growth</text>
<line x1="104.35" y1="372.20" x2="140.08" y2="372.20" stroke="#3a3a3a" stroke-width="2"/>
<text x="122.22" y="400.20" font-size="4.5" text-anchor="middle" fill="#1a1a1a" dominant-baseline="central" stroke="#1a1a1a" stroke-width="0.14">PI3K-AKT</text>
<line x1="141.28" y1="372.20" x2="152.39" y2="372.20" stroke="#3a3a3a" stroke-width="2"/>
<text x="146.84" y="400.20" font-size="4.5" text-anchor="middle" fill="#1a1a1a" dominant-baseline="central" stroke="#1a1a1a" stroke-width="0.14">immune</text>
<line x1="153.59" y1="372.20" x2="189.32" y2="372.20" stroke="#3a3a3a" stroke-width="2"/>
<text x="171.45" y="400.20" font-size="4.5" text-anchor="middle" fill="#1a1a1a" dominant-baseline="central" stroke="#1a1a1a" stroke-width="0.14">autophagy</text>
<line x1="190.52" y1="372.20" x2="238.56" y2="372.20" stroke="#3a3a3a" stroke-width="2"/>
<text x="214.54" y="400.20" font-size="4.5" text-anchor="middle" fill="#1a1a1a" dominant-baseline="central" stroke="#1a1a1a" stroke-width="0.14">chromatin</text>
<line x1="239.76" y1="372.20" x2="287.80" y2="372.20" stroke="#3a3a3a" stroke-width="2"/>
<text x="263.78" y="400.20" font-size="4.5" text-anchor="middle" fill="#1a1a1a" dominant-baseline="central" stroke="#1a1a1a" stroke-width="0.14">NF-kappa B</text>
<line x1="289.00" y1="372.20" x2="300.11" y2="372.20" stroke="#3a3a3a" stroke-width="2"/>
<text x="294.56" y="400.20" font-size="4.5" text-anchor="middle" fill="#1a1a1a" dominant-baseline="central" stroke="#1a1a1a" stroke-width="0.14">cell growth</text>
<rect x="190.20" y="190.30" width="13.76" height="5.38" fill="#fde8e0" stroke="#6e6262" stroke-width="0.4"/>
<rect x="203.96" y="190.30" width="13.76" height="5.38" fill="#f7baa5" stroke="#6e6262" stroke-width="0.4"/>
<rect x="217.72" y="190.30" width="13.76" height="5.38" fill="#f7baa5" stroke="#6e6262" stroke-width="0.4"/>
<rect x="231.48" y="190.30" width="13.76" height="5.38" fill="#f7baa5" stroke="#6e6262" stroke-width="0.4"/>
<rect x="245.24" y="190.30" width="13.76" height="5.38" fill="#f8c6b5" stroke="#6e6262" stroke-width="0.4"/>
<rect x="203.96" y="195.68" width="13.76" height="5.38" fill="#fbdfd4" stroke="#6e6262" stroke-width="0.4"/>
<rect x="217.72" y="195.68" width="13.76" height="5.38" fill="#f8c6b5" stroke="#6e6262" stroke-width="0.4"/>
<rect x="231.48" y="195.68" width="13.76" height="5.38" fill="#fad3c6" stroke="#6e6262" stroke-width="0.4"/>
<rect x="245.24" y="195.68" width="13.76" height="5.38" fill="#fde8e0" stroke="#6e6262" stroke-width="0.4"/>
<rect x="217.72" y="201.06" width="13.76" height="5.38" fill="#f4a085" stroke="#6e6262" stroke-width="0.4"/>
<rect x="231.48" y="201.06" width="13.76" height="5.38" fill="#f4a085" stroke="#6e6262" stroke-width="0.4"/>
<rect x="245.24" y="201.06" width="13.76" height="5.38" fill="#f4a085" stroke="#6e6262" stroke-width="0.4"/>
<rect x="231.48" y="206.44" width="13.76" height="5.38" fill="#f30c06" stroke="#6e6262" stroke-width="0.4"/>
<rect x="245.24" y="206.44" width="13.76" height="5.38" fill="#f5ab93" stroke="#6e6262" stroke-width="0.4"/>
<rect x="245.24" y="211.82" width="13.76" height="5.38" fill="#f7baa5" stroke="#6e6262" stroke-width="0.4"/>
<text x="224.60" y="205.35" font-size="6.6" text-anchor="middle" fill="#000" dominant-baseline="central" stroke="#000" stroke-width="0.4">*</text>
<text x="238.36" y="205.35" font-size="6.6" text-anchor="middle" fill="#000" dominant-baseline="central" stroke="#000" stroke-width="0.4">*</text>
<text x="252.12" y="205.35" font-size="6.6" text-anchor="middle" fill="#000" dominant-baseline="central" stroke="#000" stroke-width="0.4">*</text>
<text x="238.36" y="210.73" font-size="6.6" text-anchor="middle" fill="#000" dominant-baseline="central" stroke="#000" stroke-width="0.4">*</text>
<text x="195.88" y="185.50" font-size="4.6" fill="#333" transform="rotate(-90 195.88 185.5)" dominant-baseline="central" stroke="#333" stroke-width="0.06">NF-kappa B</text>
<text x="209.64" y="185.50" font-size="4.6" fill="#333" transform="rotate(-90 209.64 185.5)" dominant-baseline="central" stroke="#333" stroke-width="0.06">chromatin</text>
<text x="223.40" y="185.50" font-size="4.6" fill="#333" transform="rotate(-90 223.4 185.5)" dominant-baseline="central" stroke="#333" stroke-width="0.06">autophagy</text>
<text x="237.16" y="185.50" font-size="4.6" fill="#333" transform="rotate(-90 237.16 185.5)" dominant-baseline="central" stroke="#333" stroke-width="0.06">immune</text>
<text x="250.92" y="185.50" font-size="4.6" fill="#333" transform="rotate(-90 250.92 185.5)" dominant-baseline="central" stroke="#333" stroke-width="0.06">PI3K-AKT</text>
<text x="264.80" y="193.19" font-size="4.35" fill="#333" dominant-baseline="central" stroke="#333" stroke-width="0.06">cell growth</text>
<text x="264.80" y="198.57" font-size="4.35" fill="#333" dominant-baseline="central" stroke="#333" stroke-width="0.06">NF-kappa B</text>
<text x="264.80" y="203.95" font-size="4.35" fill="#333" dominant-baseline="central" stroke="#333" stroke-width="0.06">chromatin</text>
<text x="264.80" y="209.33" font-size="4.35" fill="#333" dominant-baseline="central" stroke="#333" stroke-width="0.06">autophagy</text>
<text x="264.80" y="214.71" font-size="4.35" fill="#333" dominant-baseline="central" stroke="#333" stroke-width="0.06">immune</text>
<defs><linearGradient id="cb" x1="0" y1="0" x2="0" y2="1"><stop offset="0.000" stop-color="#ff0000"/><stop offset="0.050" stop-color="#ff3e22"/><stop offset="0.100" stop-color="#ff5b3a"/><stop offset="0.150" stop-color="#ff7352"/><stop offset="0.200" stop-color="#ff8969"/><stop offset="0.250" stop-color="#ff9e81"/><stop offset="0.300" stop-color="#ffb299"/><stop offset="0.350" stop-color="#ffc6b2"/><stop offset="0.400" stop-color="#ffd9cb"/><stop offset="0.450" stop-color="#ffece5"/><stop offset="0.500" stop-color="#ffffff"/><stop offset="0.550" stop-color="#f2e7ff"/><stop offset="0.600" stop-color="#e3d0ff"/><stop offset="0.650" stop-color="#d4b9ff"/><stop offset="0.700" stop-color="#c4a2ff"/><stop offset="0.750" stop-color="#b38bff"/><stop offset="0.800" stop-color="#a074ff"/><stop offset="0.850" stop-color="#8a5dff"/><stop offset="0.900" stop-color="#7145ff"/><stop offset="0.950" stop-color="#502bff"/><stop offset="1.000" stop-color="#0000ff"/></linearGradient></defs>
<rect x="263.9" y="266.8" width="5.0" height="38.3" fill="url(#cb)"/>
<text x="264.00" y="262.60" font-size="5.4" fill="#222" dominant-baseline="central" stroke="#222" stroke-width="0.12">-log10(pvalue)</text>
<text x="271.60" y="267.50" font-size="4.2" fill="#4d4d4d" dominant-baseline="central" stroke="#4d4d4d" stroke-width="0.12">3</text>
<text x="271.60" y="273.78" font-size="4.2" fill="#4d4d4d" dominant-baseline="central" stroke="#4d4d4d" stroke-width="0.12">2</text>
<text x="271.60" y="280.06" font-size="4.2" fill="#4d4d4d" dominant-baseline="central" stroke="#4d4d4d" stroke-width="0.12">1</text>
<text x="271.60" y="286.34" font-size="4.2" fill="#4d4d4d" dominant-baseline="central" stroke="#4d4d4d" stroke-width="0.12">0</text>
<text x="271.60" y="292.62" font-size="4.2" fill="#4d4d4d" dominant-baseline="central" stroke="#4d4d4d" stroke-width="0.12">−1</text>
<text x="271.60" y="298.90" font-size="4.2" fill="#4d4d4d" dominant-baseline="central" stroke="#4d4d4d" stroke-width="0.12">−2</text>
<text x="271.60" y="305.18" font-size="4.2" fill="#4d4d4d" dominant-baseline="central" stroke="#4d4d4d" stroke-width="0.12">−3</text>
<line x1="351.50" y1="150.80" x2="351.50" y2="254.65" stroke="#333" stroke-width="0.9"/>
<line x1="351.05" y1="254.20" x2="455.60" y2="254.20" stroke="#333" stroke-width="0.9"/>
<line x1="349.30" y1="250.00" x2="351.50" y2="250.00" stroke="#333" stroke-width="0.7"/>
<text x="346.90" y="250.70" font-size="4.3" text-anchor="end" fill="#4d4d4d" dominant-baseline="central" stroke="#4d4d4d" stroke-width="0.12">0</text>
<line x1="349.30" y1="224.08" x2="351.50" y2="224.08" stroke="#333" stroke-width="0.7"/>
<text x="346.90" y="224.78" font-size="4.3" text-anchor="end" fill="#4d4d4d" dominant-baseline="central" stroke="#4d4d4d" stroke-width="0.12">3</text>
<line x1="349.30" y1="198.16" x2="351.50" y2="198.16" stroke="#333" stroke-width="0.7"/>
<text x="346.90" y="198.86" font-size="4.3" text-anchor="end" fill="#4d4d4d" dominant-baseline="central" stroke="#4d4d4d" stroke-width="0.12">6</text>
<line x1="349.30" y1="172.24" x2="351.50" y2="172.24" stroke="#333" stroke-width="0.7"/>
<text x="346.90" y="172.94" font-size="4.3" text-anchor="end" fill="#4d4d4d" dominant-baseline="central" stroke="#4d4d4d" stroke-width="0.12">9</text>
<line x1="355.72" y1="254.20" x2="355.72" y2="256.40" stroke="#333" stroke-width="0.7"/>
<text x="355.72" y="260.80" font-size="4.3" text-anchor="middle" fill="#4d4d4d" dominant-baseline="central" stroke="#4d4d4d" stroke-width="0.12">0.3</text>
<line x1="384.90" y1="254.20" x2="384.90" y2="256.40" stroke="#333" stroke-width="0.7"/>
<text x="384.90" y="260.80" font-size="4.3" text-anchor="middle" fill="#4d4d4d" dominant-baseline="central" stroke="#4d4d4d" stroke-width="0.12">1.0</text>
<line x1="411.52" y1="254.20" x2="411.52" y2="256.40" stroke="#333" stroke-width="0.7"/>
<text x="411.52" y="260.80" font-size="4.3" text-anchor="middle" fill="#4d4d4d" dominant-baseline="central" stroke="#4d4d4d" stroke-width="0.12">3.0</text>
<line x1="440.70" y1="254.20" x2="440.70" y2="256.40" stroke="#333" stroke-width="0.7"/>
<text x="440.70" y="260.80" font-size="4.3" text-anchor="middle" fill="#4d4d4d" dominant-baseline="central" stroke="#4d4d4d" stroke-width="0.12">10.0</text>
<text x="403.30" y="268.50" font-size="5.4" text-anchor="middle" fill="#222" dominant-baseline="central" stroke="#222" stroke-width="0.18">Median TMB</text>
<text x="333.40" y="202.00" font-size="5.4" text-anchor="middle" fill="#222" transform="rotate(-90 333.4 202)" dominant-baseline="central" stroke="#222" stroke-width="0.18">Number of drivers</text>
<line x1="409.58" y1="162.88" x2="408.30" y2="161.03" stroke="#444" stroke-width="0.45"/>
<line x1="420.24" y1="165.49" x2="422.04" y2="168.45" stroke="#444" stroke-width="0.45"/>
<line x1="383.28" y1="188.69" x2="381.48" y2="186.68" stroke="#444" stroke-width="0.45"/>
<line x1="419.50" y1="188.00" x2="419.50" y2="187.20" stroke="#444" stroke-width="0.45"/>
<line x1="357.36" y1="199.96" x2="358.80" y2="202.76" stroke="#444" stroke-width="0.45"/>
<line x1="399.02" y1="197.27" x2="395.69" y2="194.37" stroke="#444" stroke-width="0.45"/>
<line x1="412.44" y1="197.12" x2="410.27" y2="194.57" stroke="#444" stroke-width="0.45"/>
<line x1="427.51" y1="197.07" x2="428.92" y2="194.78" stroke="#444" stroke-width="0.45"/>
<line x1="393.33" y1="206.06" x2="390.97" y2="203.79" stroke="#444" stroke-width="0.45"/>
<line x1="417.41" y1="207.90" x2="421.45" y2="210.34" stroke="#444" stroke-width="0.45"/>
<line x1="436.79" y1="206.26" x2="441.09" y2="203.52" stroke="#444" stroke-width="0.45"/>
<line x1="388.64" y1="214.81" x2="383.54" y2="212.32" stroke="#444" stroke-width="0.45"/>
<line x1="409.86" y1="214.42" x2="408.53" y2="212.83" stroke="#444" stroke-width="0.45"/>
<line x1="420.89" y1="216.85" x2="423.06" y2="220.09" stroke="#444" stroke-width="0.45"/>
<line x1="449.15" y1="214.98" x2="445.41" y2="213.86" stroke="#444" stroke-width="0.45"/>
<line x1="361.42" y1="222.18" x2="361.47" y2="221.37" stroke="#444" stroke-width="0.45"/>
<line x1="391.83" y1="223.47" x2="386.84" y2="222.34" stroke="#444" stroke-width="0.45"/>
<line x1="400.69" y1="225.89" x2="400.25" y2="228.04" stroke="#444" stroke-width="0.45"/>
<line x1="419.17" y1="224.97" x2="423.52" y2="229.34" stroke="#444" stroke-width="0.45"/>
<line x1="370.41" y1="231.64" x2="375.17" y2="229.75" stroke="#444" stroke-width="0.45"/>
<line x1="365.77" y1="233.57" x2="361.98" y2="235.78" stroke="#444" stroke-width="0.45"/>
<line x1="384.73" y1="233.65" x2="382.42" y2="237.57" stroke="#444" stroke-width="0.45"/>
<line x1="410.19" y1="240.14" x2="411.57" y2="238.08" stroke="#444" stroke-width="0.45"/>
<line x1="358.88" y1="242.55" x2="360.18" y2="244.27" stroke="#444" stroke-width="0.45"/>
<line x1="404.41" y1="223.40" x2="406.25" y2="222.06" stroke="#444" stroke-width="0.45"/>
<circle cx="430.90" cy="155.20" r="2" fill="#000" stroke="none" stroke-width="0.5"/>
<circle cx="410.90" cy="164.10" r="2" fill="#000" stroke="none" stroke-width="0.5"/>
<circle cx="419.10" cy="164.10" r="2" fill="#000" stroke="none" stroke-width="0.5"/>
<circle cx="384.70" cy="189.80" r="2" fill="#000" stroke="none" stroke-width="0.5"/>
<circle cx="419.50" cy="189.80" r="2" fill="#000" stroke="none" stroke-width="0.5"/>
<circle cx="356.30" cy="198.50" r="2" fill="#000" stroke="none" stroke-width="0.5"/>
<circle cx="400.50" cy="198.30" r="2" fill="#000" stroke="none" stroke-width="0.5"/>
<circle cx="413.80" cy="198.30" r="2" fill="#000" stroke="none" stroke-width="0.5"/>
<circle cx="426.30" cy="198.40" r="2" fill="#000" stroke="none" stroke-width="0.5"/>
<circle cx="394.80" cy="207.10" r="2" fill="#000" stroke="none" stroke-width="0.5"/>
<circle cx="415.80" cy="207.10" r="2" fill="#000" stroke="none" stroke-width="0.5"/>
<circle cx="435.20" cy="207.10" r="2" fill="#000" stroke="none" stroke-width="0.5"/>
<circle cx="390.30" cy="215.50" r="2" fill="#000" stroke="none" stroke-width="0.5"/>
<circle cx="411.30" cy="215.50" r="2" fill="#000" stroke="none" stroke-width="0.5"/>
<circle cx="419.70" cy="215.50" r="2" fill="#000" stroke="none" stroke-width="0.5"/>
<circle cx="450.90" cy="215.40" r="2" fill="#000" stroke="none" stroke-width="0.5"/>
<circle cx="362.20" cy="223.80" r="2" fill="#000" stroke="none" stroke-width="0.5"/>
<circle cx="393.60" cy="223.80" r="2" fill="#000" stroke="none" stroke-width="0.5"/>
<circle cx="401.30" cy="224.20" r="2" fill="#000" stroke="none" stroke-width="0.5"/>
<circle cx="417.80" cy="223.80" r="2" fill="#000" stroke="none" stroke-width="0.5"/>
<circle cx="368.70" cy="232.20" r="2" fill="#000" stroke="none" stroke-width="0.5"/>
<circle cx="367.40" cy="232.80" r="2" fill="#000" stroke="none" stroke-width="0.5"/>
<circle cx="385.80" cy="232.20" r="2" fill="#000" stroke="none" stroke-width="0.5"/>
<circle cx="408.90" cy="241.40" r="2" fill="#000" stroke="none" stroke-width="0.5"/>
<circle cx="357.50" cy="241.40" r="2" fill="#000" stroke="none" stroke-width="0.5"/>
<circle cx="403.20" cy="250.00" r="2" fill="#000" stroke="none" stroke-width="0.5"/>
<circle cx="402.80" cy="224.20" r="2" fill="#f00000" stroke="none" stroke-width="0.5"/>
<text x="439.80" y="155.90" font-size="3.5" text-anchor="middle" fill="#222" dominant-baseline="central" stroke="#222" stroke-width="0.1">BLCA</text>
<text x="405.80" y="159.40" font-size="3.5" text-anchor="middle" fill="#222" dominant-baseline="central" stroke="#222" stroke-width="0.1">UCEC</text>
<text x="424.20" y="170.30" font-size="3.5" text-anchor="middle" fill="#222" dominant-baseline="central" stroke="#222" stroke-width="0.1">COAD</text>
<text x="378.80" y="185.20" font-size="3.5" text-anchor="middle" fill="#222" dominant-baseline="central" stroke="#222" stroke-width="0.1">LGG</text>
<text x="419.50" y="184.80" font-size="3.5" text-anchor="middle" fill="#222" dominant-baseline="central" stroke="#222" stroke-width="0.1">STAD</text>
<text x="360.80" y="204.70" font-size="3.5" text-anchor="middle" fill="#222" dominant-baseline="central" stroke="#222" stroke-width="0.1">LAML</text>
<text x="392.90" y="193.00" font-size="3.5" text-anchor="middle" fill="#222" dominant-baseline="central" stroke="#222" stroke-width="0.1">GBM</text>
<text x="407.70" y="193.00" font-size="3.5" text-anchor="middle" fill="#222" dominant-baseline="central" stroke="#222" stroke-width="0.1">READ</text>
<text x="431.20" y="193.00" font-size="3.5" text-anchor="middle" fill="#222" dominant-baseline="central" stroke="#222" stroke-width="0.1">LUAD</text>
<text x="388.20" y="202.40" font-size="3.5" text-anchor="middle" fill="#222" dominant-baseline="central" stroke="#222" stroke-width="0.1">BRCA</text>
<text x="424.50" y="211.40" font-size="3.5" text-anchor="middle" fill="#222" dominant-baseline="central" stroke="#222" stroke-width="0.1">CESC</text>
<text x="444.10" y="202.40" font-size="3.5" text-anchor="middle" fill="#222" dominant-baseline="central" stroke="#222" stroke-width="0.1">LUSC</text>
<text x="380.40" y="211.40" font-size="3.5" text-anchor="middle" fill="#222" dominant-baseline="central" stroke="#222" stroke-width="0.1">PAAD</text>
<text x="405.80" y="211.40" font-size="3.5" text-anchor="middle" fill="#222" dominant-baseline="central" stroke="#222" stroke-width="0.1">LIHC</text>
<text x="425.30" y="221.90" font-size="3.5" text-anchor="middle" fill="#222" dominant-baseline="central" stroke="#222" stroke-width="0.1">HNSC</text>
<text x="442.10" y="213.30" font-size="3.5" text-anchor="middle" fill="#222" dominant-baseline="central" stroke="#222" stroke-width="0.1">SKCM</text>
<text x="360.00" y="219.20" font-size="3.5" text-anchor="middle" fill="#222" dominant-baseline="central" stroke="#222" stroke-width="0.1">THCA</text>
<text x="383.50" y="221.90" font-size="3.5" text-anchor="middle" fill="#222" dominant-baseline="central" stroke="#222" stroke-width="0.1">SARC</text>
<text x="399.10" y="230.30" font-size="3.5" text-anchor="middle" fill="#222" dominant-baseline="central" stroke="#222" stroke-width="0.1">KIRC</text>
<text x="426.10" y="230.90" font-size="3.5" text-anchor="middle" fill="#222" dominant-baseline="central" stroke="#222" stroke-width="0.1">ESCA</text>
<text x="378.40" y="229.00" font-size="3.5" text-anchor="middle" fill="#222" dominant-baseline="central" stroke="#222" stroke-width="0.1">THYM</text>
<text x="358.90" y="236.80" font-size="3.5" text-anchor="middle" fill="#222" dominant-baseline="central" stroke="#222" stroke-width="0.1">TGCT</text>
<text x="380.40" y="239.50" font-size="3.5" text-anchor="middle" fill="#222" dominant-baseline="central" stroke="#222" stroke-width="0.1">PRAD</text>
<text x="414.00" y="236.40" font-size="3.5" text-anchor="middle" fill="#222" dominant-baseline="central" stroke="#222" stroke-width="0.1">OV</text>
<text x="362.80" y="245.80" font-size="3.5" text-anchor="middle" fill="#222" dominant-baseline="central" stroke="#222" stroke-width="0.1">PCPG</text>
<text x="393.30" y="251.60" font-size="3.5" text-anchor="middle" fill="#222" dominant-baseline="central" stroke="#222" stroke-width="0.1">KIRP</text>
<text x="409.30" y="221.00" font-size="3.3" text-anchor="middle" fill="#f23a3a" dominant-baseline="central" stroke="#f23a3a" stroke-width="0.03">NPC</text>
<line x1="351.50" y1="287.50" x2="351.50" y2="391.55" stroke="#333" stroke-width="0.9"/>
<line x1="351.05" y1="391.10" x2="455.60" y2="391.10" stroke="#333" stroke-width="0.9"/>
<line x1="349.30" y1="390.40" x2="351.50" y2="390.40" stroke="#333" stroke-width="0.7"/>
<text x="346.90" y="391.10" font-size="4.3" text-anchor="end" fill="#4d4d4d" dominant-baseline="central" stroke="#4d4d4d" stroke-width="0.12">0.00</text>
<line x1="349.30" y1="365.85" x2="351.50" y2="365.85" stroke="#333" stroke-width="0.7"/>
<text x="346.90" y="366.55" font-size="4.3" text-anchor="end" fill="#4d4d4d" dominant-baseline="central" stroke="#4d4d4d" stroke-width="0.12">0.25</text>
<line x1="349.30" y1="341.30" x2="351.50" y2="341.30" stroke="#333" stroke-width="0.7"/>
<text x="346.90" y="342.00" font-size="4.3" text-anchor="end" fill="#4d4d4d" dominant-baseline="central" stroke="#4d4d4d" stroke-width="0.12">0.50</text>
<line x1="349.30" y1="316.75" x2="351.50" y2="316.75" stroke="#333" stroke-width="0.7"/>
<text x="346.90" y="317.45" font-size="4.3" text-anchor="end" fill="#4d4d4d" dominant-baseline="central" stroke="#4d4d4d" stroke-width="0.12">0.75</text>
<line x1="349.30" y1="292.20" x2="351.50" y2="292.20" stroke="#333" stroke-width="0.7"/>
<text x="346.90" y="292.90" font-size="4.3" text-anchor="end" fill="#4d4d4d" dominant-baseline="central" stroke="#4d4d4d" stroke-width="0.12">1.00</text>
<line x1="355.72" y1="391.10" x2="355.72" y2="393.30" stroke="#333" stroke-width="0.7"/>
<text x="355.72" y="397.70" font-size="4.3" text-anchor="middle" fill="#4d4d4d" dominant-baseline="central" stroke="#4d4d4d" stroke-width="0.12">0.3</text>
<line x1="384.90" y1="391.10" x2="384.90" y2="393.30" stroke="#333" stroke-width="0.7"/>
<text x="384.90" y="397.70" font-size="4.3" text-anchor="middle" fill="#4d4d4d" dominant-baseline="central" stroke="#4d4d4d" stroke-width="0.12">1.0</text>
<line x1="411.52" y1="391.10" x2="411.52" y2="393.30" stroke="#333" stroke-width="0.7"/>
<text x="411.52" y="397.70" font-size="4.3" text-anchor="middle" fill="#4d4d4d" dominant-baseline="central" stroke="#4d4d4d" stroke-width="0.12">3.0</text>
<line x1="440.70" y1="391.10" x2="440.70" y2="393.30" stroke="#333" stroke-width="0.7"/>
<text x="440.70" y="397.70" font-size="4.3" text-anchor="middle" fill="#4d4d4d" dominant-baseline="central" stroke="#4d4d4d" stroke-width="0.12">10.0</text>
<line x1="351.50" y1="331.50" x2="455.60" y2="331.50" stroke="#222" stroke-width="0.75" stroke-dasharray="1.3 1.73"/>
<text x="403.30" y="406.20" font-size="5.4" text-anchor="middle" fill="#222" dominant-baseline="central" stroke="#222" stroke-width="0.18">Median TMB</text>
<text x="333.60" y="339.00" font-size="5.4" text-anchor="middle" fill="#222" transform="rotate(-90 333.6 339)" dominant-baseline="central" stroke="#222" stroke-width="0.18">Proportion of tumors without drivers</text>
<circle cx="419.30" cy="370.60" r="2" fill="#000" stroke="none" stroke-width="0.5"/>
<line x1="358.50" y1="303.75" x2="360.35" y2="301.27" stroke="#444" stroke-width="0.45"/>
<line x1="369.84" y1="311.65" x2="373.41" y2="309.60" stroke="#444" stroke-width="0.45"/>
<line x1="387.09" y1="318.74" x2="389.25" y2="322.39" stroke="#444" stroke-width="0.45"/>
<line x1="357.26" y1="320.15" x2="358.80" y2="323.06" stroke="#444" stroke-width="0.45"/>
<line x1="394.57" y1="338.69" x2="395.36" y2="336.62" stroke="#444" stroke-width="0.45"/>
<line x1="369.38" y1="339.53" x2="369.91" y2="337.32" stroke="#444" stroke-width="0.45"/>
<line x1="416.92" y1="341.08" x2="418.30" y2="339.13" stroke="#444" stroke-width="0.45"/>
<line x1="388.82" y1="361.38" x2="388.77" y2="360.36" stroke="#444" stroke-width="0.45"/>
<line x1="392.72" y1="363.36" x2="385.99" y2="367.46" stroke="#444" stroke-width="0.45"/>
<line x1="401.71" y1="364.68" x2="404.94" y2="367.30" stroke="#444" stroke-width="0.45"/>
<line x1="363.21" y1="364.68" x2="365.04" y2="362.60" stroke="#444" stroke-width="0.45"/>
<line x1="419.82" y1="366.88" x2="420.93" y2="362.20" stroke="#444" stroke-width="0.45"/>
<line x1="427.97" y1="370.29" x2="434.25" y2="369.01" stroke="#444" stroke-width="0.45"/>
<line x1="450.52" y1="366.77" x2="449.51" y2="362.21" stroke="#444" stroke-width="0.45"/>
<line x1="383.80" y1="376.93" x2="382.28" y2="379.70" stroke="#444" stroke-width="0.45"/>
<line x1="412.11" y1="379.33" x2="401.68" y2="378.23" stroke="#444" stroke-width="0.45"/>
<line x1="416.73" y1="378.93" x2="416.57" y2="377.63" stroke="#444" stroke-width="0.45"/>
<line x1="420.66" y1="382.22" x2="423.21" y2="378.44" stroke="#444" stroke-width="0.45"/>
<line x1="407.79" y1="382.72" x2="405.06" y2="385.51" stroke="#444" stroke-width="0.45"/>
<line x1="413.09" y1="386.69" x2="412.62" y2="386.75" stroke="#444" stroke-width="0.45"/>
<line x1="414.30" y1="386.58" x2="420.60" y2="386.90" stroke="#444" stroke-width="0.45"/>
<line x1="432.19" y1="382.44" x2="437.80" y2="385.88" stroke="#444" stroke-width="0.45"/>
<line x1="437.42" y1="379.87" x2="441.55" y2="378.31" stroke="#444" stroke-width="0.45"/>
<line x1="403.67" y1="309.63" x2="405.92" y2="307.06" stroke="#444" stroke-width="0.45"/>
<circle cx="402.90" cy="292.20" r="2" fill="#000" stroke="none" stroke-width="0.5"/>
<circle cx="357.20" cy="305.00" r="2" fill="#000" stroke="none" stroke-width="0.5"/>
<circle cx="368.20" cy="312.40" r="2" fill="#000" stroke="none" stroke-width="0.5"/>
<circle cx="386.00" cy="317.30" r="2" fill="#000" stroke="none" stroke-width="0.5"/>
<circle cx="356.20" cy="318.70" r="2" fill="#000" stroke="none" stroke-width="0.5"/>
<circle cx="393.60" cy="340.20" r="2" fill="#000" stroke="none" stroke-width="0.5"/>
<circle cx="368.70" cy="341.20" r="2" fill="#000" stroke="none" stroke-width="0.5"/>
<circle cx="415.60" cy="342.30" r="2" fill="#000" stroke="none" stroke-width="0.5"/>
<circle cx="411.30" cy="347.20" r="2" fill="#000" stroke="none" stroke-width="0.5"/>
<circle cx="401.40" cy="356.00" r="2" fill="#000" stroke="none" stroke-width="0.5"/>
<circle cx="389.60" cy="363.00" r="2" fill="#000" stroke="none" stroke-width="0.5"/>
<circle cx="394.30" cy="362.50" r="2" fill="#000" stroke="none" stroke-width="0.5"/>
<circle cx="400.20" cy="363.70" r="2" fill="#000" stroke="none" stroke-width="0.5"/>
<circle cx="361.80" cy="365.80" r="2" fill="#000" stroke="none" stroke-width="0.5"/>
<circle cx="419.30" cy="368.60" r="2" fill="#000" stroke="none" stroke-width="0.5"/>
<circle cx="426.20" cy="370.60" r="2" fill="#000" stroke="none" stroke-width="0.5"/>
<circle cx="451.00" cy="368.50" r="2" fill="#000" stroke="none" stroke-width="0.5"/>
<circle cx="384.90" cy="375.50" r="2" fill="#000" stroke="none" stroke-width="0.5"/>
<circle cx="413.90" cy="379.50" r="2" fill="#000" stroke="none" stroke-width="0.5"/>
<circle cx="417.40" cy="380.60" r="2" fill="#000" stroke="none" stroke-width="0.5"/>
<circle cx="419.50" cy="383.60" r="2" fill="#000" stroke="none" stroke-width="0.5"/>
<circle cx="409.20" cy="381.60" r="2" fill="#000" stroke="none" stroke-width="0.5"/>
<circle cx="411.30" cy="386.50" r="2" fill="#000" stroke="none" stroke-width="0.5"/>
<circle cx="412.50" cy="386.50" r="2" fill="#000" stroke="none" stroke-width="0.5"/>
<circle cx="430.60" cy="381.60" r="2" fill="#000" stroke="none" stroke-width="0.5"/>
<circle cx="435.70" cy="380.40" r="2" fill="#000" stroke="none" stroke-width="0.5"/>
<circle cx="402.30" cy="310.80" r="2" fill="#f00000" stroke="none" stroke-width="0.5"/>
<text x="412.40" y="292.20" font-size="3.5" text-anchor="middle" fill="#222" dominant-baseline="central" stroke="#222" stroke-width="0.1">KIRP</text>
<text x="362.80" y="299.60" font-size="3.5" text-anchor="middle" fill="#222" dominant-baseline="central" stroke="#222" stroke-width="0.1">PCPG</text>
<text x="376.50" y="308.60" font-size="3.5" text-anchor="middle" fill="#222" dominant-baseline="central" stroke="#222" stroke-width="0.1">TGCT</text>
<text x="391.30" y="324.30" font-size="3.5" text-anchor="middle" fill="#222" dominant-baseline="central" stroke="#222" stroke-width="0.1">PRAD</text>
<text x="360.80" y="325.00" font-size="3.5" text-anchor="middle" fill="#222" dominant-baseline="central" stroke="#222" stroke-width="0.1">LAML</text>
<text x="397.20" y="334.60" font-size="3.5" text-anchor="middle" fill="#222" dominant-baseline="central" stroke="#222" stroke-width="0.1">SARC</text>
<text x="371.20" y="335.10" font-size="3.5" text-anchor="middle" fill="#222" dominant-baseline="central" stroke="#222" stroke-width="0.1">THYM</text>
<text x="420.80" y="337.50" font-size="3.5" text-anchor="middle" fill="#222" dominant-baseline="central" stroke="#222" stroke-width="0.1">CESC</text>
<text x="411.80" y="351.20" font-size="3.5" text-anchor="middle" fill="#222" dominant-baseline="central" stroke="#222" stroke-width="0.1">LIHC</text>
<text x="403.80" y="353.30" font-size="3.5" text-anchor="middle" fill="#222" dominant-baseline="central" stroke="#222" stroke-width="0.1">KIRC</text>
<text x="387.30" y="358.20" font-size="3.5" text-anchor="middle" fill="#222" dominant-baseline="central" stroke="#222" stroke-width="0.1">BRCA</text>
<text x="383.00" y="368.60" font-size="3.5" text-anchor="middle" fill="#222" dominant-baseline="central" stroke="#222" stroke-width="0.1">PAAD</text>
<text x="407.80" y="368.60" font-size="3.5" text-anchor="middle" fill="#222" dominant-baseline="central" stroke="#222" stroke-width="0.1">GBM</text>
<text x="367.70" y="361.10" font-size="3.5" text-anchor="middle" fill="#222" dominant-baseline="central" stroke="#222" stroke-width="0.1">THCA</text>
<text x="421.90" y="359.90" font-size="3.5" text-anchor="middle" fill="#222" dominant-baseline="central" stroke="#222" stroke-width="0.1">STAD</text>
<text x="437.60" y="368.60" font-size="3.5" text-anchor="middle" fill="#222" dominant-baseline="central" stroke="#222" stroke-width="0.1">LUAD</text>
<text x="448.60" y="359.90" font-size="3.5" text-anchor="middle" fill="#222" dominant-baseline="central" stroke="#222" stroke-width="0.1">SKCM</text>
<text x="380.20" y="381.60" font-size="3.5" text-anchor="middle" fill="#222" dominant-baseline="central" stroke="#222" stroke-width="0.1">LGG</text>
<text x="398.30" y="378.00" font-size="3.5" text-anchor="middle" fill="#222" dominant-baseline="central" stroke="#222" stroke-width="0.1">READ</text>
<text x="415.30" y="375.40" font-size="3.5" text-anchor="middle" fill="#222" dominant-baseline="central" stroke="#222" stroke-width="0.1">HNSC</text>
<text x="425.40" y="376.60" font-size="3.5" text-anchor="middle" fill="#222" dominant-baseline="central" stroke="#222" stroke-width="0.1">ESCA</text>
<text x="402.40" y="387.00" font-size="3.5" text-anchor="middle" fill="#222" dominant-baseline="central" stroke="#222" stroke-width="0.1">OV</text>
<text x="416.00" y="387.00" font-size="3.5" text-anchor="middle" fill="#222" dominant-baseline="central" stroke="#222" stroke-width="0.1">UCEC</text>
<text x="424.00" y="387.00" font-size="3.5" text-anchor="middle" fill="#222" dominant-baseline="central" stroke="#222" stroke-width="0.1">COAD</text>
<text x="440.80" y="387.00" font-size="3.5" text-anchor="middle" fill="#222" dominant-baseline="central" stroke="#222" stroke-width="0.1">BLCA</text>
<text x="444.80" y="377.60" font-size="3.5" text-anchor="middle" fill="#222" dominant-baseline="central" stroke="#222" stroke-width="0.1">LUSC</text>
<text x="408.50" y="305.50" font-size="3.3" text-anchor="middle" fill="#f23a3a" dominant-baseline="central" stroke="#f23a3a" stroke-width="0.03">NPC</text>
<rect x="88.30" y="423.10" width="343.50" height="33.00" fill="#b9d7e9" stroke="none" stroke-width="0.5"/>
<rect x="88.30" y="456.10" width="343.50" height="30.10" fill="#f3a8b5" stroke="none" stroke-width="0.5"/>
<rect x="88.30" y="423.10" width="343.50" height="63.10" fill="none" stroke="#8c8c8c" stroke-width="0.7"/>
<line x1="88.30" y1="456.10" x2="431.80" y2="456.10" stroke="#111" stroke-width="1.1" stroke-dasharray="1.5 2.3"/>
<line x1="86.50" y1="437.30" x2="88.30" y2="437.30" stroke="#333" stroke-width="0.5"/>
<text x="84.10" y="437.90" font-size="4.3" text-anchor="end" fill="#4d4d4d" dominant-baseline="central" stroke="#4d4d4d" stroke-width="0.12">3.0</text>
<line x1="86.50" y1="456.00" x2="88.30" y2="456.00" stroke="#333" stroke-width="0.5"/>
<text x="84.10" y="456.60" font-size="4.3" text-anchor="end" fill="#4d4d4d" dominant-baseline="central" stroke="#4d4d4d" stroke-width="0.12">1.0</text>
<line x1="86.50" y1="476.50" x2="88.30" y2="476.50" stroke="#333" stroke-width="0.5"/>
<text x="84.10" y="477.10" font-size="4.3" text-anchor="end" fill="#4d4d4d" dominant-baseline="central" stroke="#4d4d4d" stroke-width="0.12">0.3</text>
<text x="72.60" y="454.40" font-size="5.4" text-anchor="middle" fill="#222" transform="rotate(-90 72.6 454.4)" dominant-baseline="central" stroke="#222" stroke-width="0.18">Odds ratio (log10)</text>
<line x1="131.60" y1="426.20" x2="131.60" y2="445.90" stroke="#000" stroke-width="1.1"/>
<line x1="129.10" y1="426.20" x2="134.10" y2="426.20" stroke="#000" stroke-width="1.1"/>
<line x1="129.10" y1="445.90" x2="134.10" y2="445.90" stroke="#000" stroke-width="1.1"/>
<circle cx="131.60" cy="436.10" r="2.35" fill="#000" stroke="none" stroke-width="0.5"/>
<text x="136.60" y="436.50" font-size="3.8" fill="#222" dominant-baseline="central" stroke="#222" stroke-width="0.12">p=4.23e-0.5</text>
<line x1="131.60" y1="486.20" x2="131.60" y2="488.00" stroke="#333" stroke-width="0.5"/>
<text x="132.50" y="492.10" font-size="4.3" text-anchor="end" fill="#444" transform="rotate(-45 132.5 492.1)" dominant-baseline="central" stroke="#444" stroke-width="0.12">cell growth</text>
<line x1="174.40" y1="443.30" x2="174.40" y2="460.30" stroke="#000" stroke-width="1.1"/>
<line x1="171.90" y1="443.30" x2="176.90" y2="443.30" stroke="#000" stroke-width="1.1"/>
<line x1="171.90" y1="460.30" x2="176.90" y2="460.30" stroke="#000" stroke-width="1.1"/>
<circle cx="174.40" cy="451.80" r="2.35" fill="#000" stroke="none" stroke-width="0.5"/>
<text x="179.40" y="452.20" font-size="3.8" fill="#222" dominant-baseline="central" stroke="#222" stroke-width="0.12">p=0.396</text>
<line x1="174.40" y1="486.20" x2="174.40" y2="488.00" stroke="#333" stroke-width="0.5"/>
<text x="175.30" y="492.10" font-size="4.3" text-anchor="end" fill="#444" transform="rotate(-45 175.3 492.1)" dominant-baseline="central" stroke="#444" stroke-width="0.12">autophagy</text>
<line x1="217.20" y1="447.60" x2="217.20" y2="462.00" stroke="#000" stroke-width="1.1"/>
<line x1="214.70" y1="447.60" x2="219.70" y2="447.60" stroke="#000" stroke-width="1.1"/>
<line x1="214.70" y1="462.00" x2="219.70" y2="462.00" stroke="#000" stroke-width="1.1"/>
<circle cx="217.20" cy="455.00" r="2.35" fill="#000" stroke="none" stroke-width="0.5"/>
<text x="222.20" y="455.40" font-size="3.8" fill="#222" dominant-baseline="central" stroke="#222" stroke-width="0.12">p=0.832</text>
<line x1="217.20" y1="486.20" x2="217.20" y2="488.00" stroke="#333" stroke-width="0.5"/>
<text x="218.10" y="492.10" font-size="4.3" text-anchor="end" fill="#444" transform="rotate(-45 218.1 492.1)" dominant-baseline="central" stroke="#444" stroke-width="0.12">NF-kappa B signaling pathway</text>
<line x1="260.20" y1="447.60" x2="260.20" y2="469.20" stroke="#000" stroke-width="1.1"/>
<line x1="257.70" y1="447.60" x2="262.70" y2="447.60" stroke="#000" stroke-width="1.1"/>
<line x1="257.70" y1="469.20" x2="262.70" y2="469.20" stroke="#000" stroke-width="1.1"/>
<circle cx="260.20" cy="458.20" r="2.35" fill="#000" stroke="none" stroke-width="0.5"/>
<text x="265.20" y="458.60" font-size="3.8" fill="#222" dominant-baseline="central" stroke="#222" stroke-width="0.12">p=0.608</text>
<line x1="260.20" y1="486.20" x2="260.20" y2="488.00" stroke="#333" stroke-width="0.5"/>
<text x="261.10" y="492.10" font-size="4.3" text-anchor="end" fill="#444" transform="rotate(-45 261.1 492.1)" dominant-baseline="central" stroke="#444" stroke-width="0.12">immune system process</text>
<line x1="302.90" y1="451.90" x2="302.90" y2="468.40" stroke="#000" stroke-width="1.1"/>
<line x1="300.40" y1="451.90" x2="305.40" y2="451.90" stroke="#000" stroke-width="1.1"/>
<line x1="300.40" y1="468.40" x2="305.40" y2="468.40" stroke="#000" stroke-width="1.1"/>
<circle cx="302.90" cy="460.20" r="2.35" fill="#000" stroke="none" stroke-width="0.5"/>
<text x="307.90" y="460.60" font-size="3.8" fill="#222" dominant-baseline="central" stroke="#222" stroke-width="0.12">p=0.346</text>
<line x1="302.90" y1="486.20" x2="302.90" y2="488.00" stroke="#333" stroke-width="0.5"/>
<text x="303.80" y="492.10" font-size="4.3" text-anchor="end" fill="#444" transform="rotate(-45 303.8 492.1)" dominant-baseline="central" stroke="#444" stroke-width="0.12">PI3K-Akt signaling pathway</text>
<line x1="345.40" y1="455.10" x2="345.40" y2="470.80" stroke="#000" stroke-width="1.1"/>
<line x1="342.90" y1="455.10" x2="347.90" y2="455.10" stroke="#000" stroke-width="1.1"/>
<line x1="342.90" y1="470.80" x2="347.90" y2="470.80" stroke="#000" stroke-width="1.1"/>
<circle cx="345.40" cy="462.90" r="2.35" fill="#000" stroke="none" stroke-width="0.5"/>
<text x="350.40" y="463.30" font-size="3.8" fill="#222" dominant-baseline="central" stroke="#222" stroke-width="0.12">p=0.077</text>
<line x1="345.40" y1="486.20" x2="345.40" y2="488.00" stroke="#333" stroke-width="0.5"/>
<text x="346.30" y="492.10" font-size="4.3" text-anchor="end" fill="#444" transform="rotate(-45 346.3 492.1)" dominant-baseline="central" stroke="#444" stroke-width="0.12">chromatin organization</text>
<line x1="388.50" y1="456.70" x2="388.50" y2="476.30" stroke="#000" stroke-width="1.1"/>
<line x1="386.00" y1="456.70" x2="391.00" y2="456.70" stroke="#000" stroke-width="1.1"/>
<line x1="386.00" y1="476.30" x2="391.00" y2="476.30" stroke="#000" stroke-width="1.1"/>
<circle cx="388.50" cy="466.10" r="2.35" fill="#000" stroke="none" stroke-width="0.5"/>
<text x="393.50" y="466.50" font-size="3.8" fill="#222" dominant-baseline="central" stroke="#222" stroke-width="0.12">p=0.023</text>
<line x1="388.50" y1="486.20" x2="388.50" y2="488.00" stroke="#333" stroke-width="0.5"/>
<text x="389.40" y="492.10" font-size="4.3" text-anchor="end" fill="#444" transform="rotate(-45 389.4 492.1)" dominant-baseline="central" stroke="#444" stroke-width="0.12">others</text>
<text x="434.00" y="438.50" font-size="6.4" fill="#333" dominant-baseline="central" stroke="#333" stroke-width="0.05">Early</text>
<text x="434.00" y="469.30" font-size="6.4" fill="#333" dominant-baseline="central" stroke="#333" stroke-width="0.05">Late</text>
<text x="260.00" y="540.30" font-size="5.4" text-anchor="middle" fill="#222" dominant-baseline="central" stroke="#222" stroke-width="0.18">Pathways</text>
</svg>
</body></html>
